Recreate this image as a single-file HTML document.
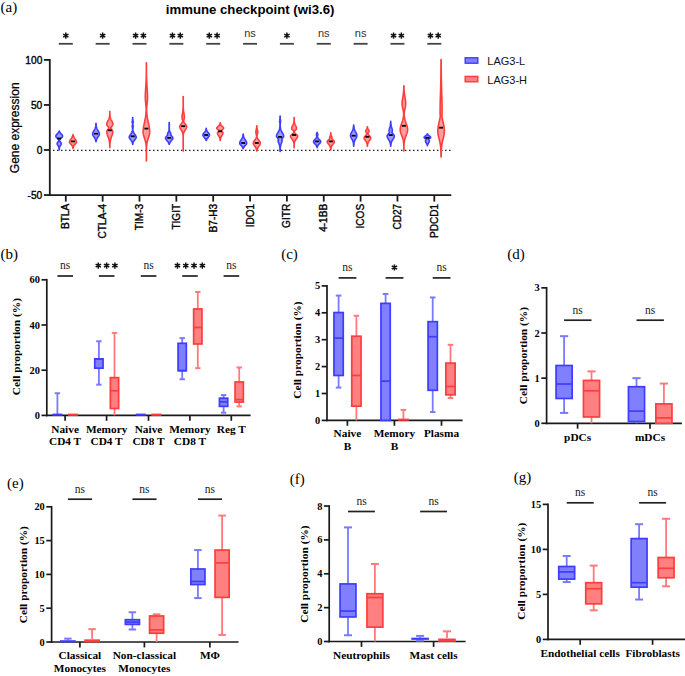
<!DOCTYPE html>
<html><head><meta charset="utf-8"><title>figure</title>
<style>
html,body{margin:0;padding:0;background:#fff;}
body{width:685px;height:676px;overflow:hidden;}
svg{display:block;}
</style></head><body>
<svg width="685" height="676" viewBox="0 0 685 676">
<rect x="0" y="0" width="685" height="676" fill="#fff"/>
<text x="0.5" y="12.2" font-family='"Liberation Serif", serif' font-size="15" font-weight="normal" text-anchor="start" fill="#000" >(a)</text>
<text x="250.1" y="14.2" font-family='"Liberation Sans", sans-serif' font-size="13.2" font-weight="bold" text-anchor="middle" fill="#000" >immune checkpoint (wi3.6)</text>
<line x1="49.8" y1="59" x2="49.8" y2="195.9" stroke="#1a1a1a" stroke-width="1.8" />
<line x1="43.9" y1="59.9" x2="49.8" y2="59.9" stroke="#1a1a1a" stroke-width="1.8" />
<text x="42.3" y="63.5" font-family='"Liberation Sans", sans-serif' font-size="10.2" font-weight="normal" text-anchor="end" fill="#000" stroke="#000" stroke-width="0.35">100</text>
<line x1="43.9" y1="104.95" x2="49.8" y2="104.95" stroke="#1a1a1a" stroke-width="1.8" />
<text x="42.3" y="108.55" font-family='"Liberation Sans", sans-serif' font-size="10.2" font-weight="normal" text-anchor="end" fill="#000" stroke="#000" stroke-width="0.35">50</text>
<line x1="43.9" y1="150" x2="49.8" y2="150" stroke="#1a1a1a" stroke-width="1.8" />
<text x="42.3" y="153.6" font-family='"Liberation Sans", sans-serif' font-size="10.2" font-weight="normal" text-anchor="end" fill="#000" stroke="#000" stroke-width="0.35">0</text>
<line x1="43.9" y1="195.05" x2="49.8" y2="195.05" stroke="#1a1a1a" stroke-width="1.8" />
<text x="42.3" y="198.65" font-family='"Liberation Sans", sans-serif' font-size="10.2" font-weight="normal" text-anchor="end" fill="#000" stroke="#000" stroke-width="0.35">-50</text>
<line x1="48.9" y1="195.05" x2="451.3" y2="195.05" stroke="#1a1a1a" stroke-width="1.8" />
<text x="18.6" y="127.8" font-family='"Liberation Sans", sans-serif' font-size="12" font-weight="normal" text-anchor="middle" fill="#000" stroke="#000" stroke-width="0.25" transform="rotate(-90 18.6 127.8)">Gene expression</text>
<line x1="65.8" y1="195" x2="65.8" y2="201.6" stroke="#1a1a1a" stroke-width="1.8" />
<text x="69.4" y="203.8" font-family='"Liberation Sans", sans-serif' font-size="10.1" font-weight="normal" text-anchor="end" fill="#000" stroke="#000" stroke-width="0.35" transform="rotate(-90 69.4 203.8)">BTLA</text>
<line x1="102.65" y1="195" x2="102.65" y2="201.6" stroke="#1a1a1a" stroke-width="1.8" />
<text x="106.25" y="203.8" font-family='"Liberation Sans", sans-serif' font-size="10.1" font-weight="normal" text-anchor="end" fill="#000" stroke="#000" stroke-width="0.35" transform="rotate(-90 106.25 203.8)">CTLA-4</text>
<line x1="139.5" y1="195" x2="139.5" y2="201.6" stroke="#1a1a1a" stroke-width="1.8" />
<text x="143.1" y="203.8" font-family='"Liberation Sans", sans-serif' font-size="10.1" font-weight="normal" text-anchor="end" fill="#000" stroke="#000" stroke-width="0.35" transform="rotate(-90 143.1 203.8)">TIM-3</text>
<line x1="176.35" y1="195" x2="176.35" y2="201.6" stroke="#1a1a1a" stroke-width="1.8" />
<text x="179.95" y="203.8" font-family='"Liberation Sans", sans-serif' font-size="10.1" font-weight="normal" text-anchor="end" fill="#000" stroke="#000" stroke-width="0.35" transform="rotate(-90 179.95 203.8)">TIGIT</text>
<line x1="213.2" y1="195" x2="213.2" y2="201.6" stroke="#1a1a1a" stroke-width="1.8" />
<text x="216.8" y="203.8" font-family='"Liberation Sans", sans-serif' font-size="10.1" font-weight="normal" text-anchor="end" fill="#000" stroke="#000" stroke-width="0.35" transform="rotate(-90 216.8 203.8)">B7-H3</text>
<line x1="250.05" y1="195" x2="250.05" y2="201.6" stroke="#1a1a1a" stroke-width="1.8" />
<text x="253.65" y="203.8" font-family='"Liberation Sans", sans-serif' font-size="10.1" font-weight="normal" text-anchor="end" fill="#000" stroke="#000" stroke-width="0.35" transform="rotate(-90 253.65 203.8)">IDO1</text>
<line x1="286.9" y1="195" x2="286.9" y2="201.6" stroke="#1a1a1a" stroke-width="1.8" />
<text x="290.5" y="203.8" font-family='"Liberation Sans", sans-serif' font-size="10.1" font-weight="normal" text-anchor="end" fill="#000" stroke="#000" stroke-width="0.35" transform="rotate(-90 290.5 203.8)">GITR</text>
<line x1="323.75" y1="195" x2="323.75" y2="201.6" stroke="#1a1a1a" stroke-width="1.8" />
<text x="327.35" y="203.8" font-family='"Liberation Sans", sans-serif' font-size="10.1" font-weight="normal" text-anchor="end" fill="#000" stroke="#000" stroke-width="0.35" transform="rotate(-90 327.35 203.8)">4-1BB</text>
<line x1="360.6" y1="195" x2="360.6" y2="201.6" stroke="#1a1a1a" stroke-width="1.8" />
<text x="364.2" y="203.8" font-family='"Liberation Sans", sans-serif' font-size="10.1" font-weight="normal" text-anchor="end" fill="#000" stroke="#000" stroke-width="0.35" transform="rotate(-90 364.2 203.8)">ICOS</text>
<line x1="397.45" y1="195" x2="397.45" y2="201.6" stroke="#1a1a1a" stroke-width="1.8" />
<text x="401.05" y="203.8" font-family='"Liberation Sans", sans-serif' font-size="10.1" font-weight="normal" text-anchor="end" fill="#000" stroke="#000" stroke-width="0.35" transform="rotate(-90 401.05 203.8)">CD27</text>
<line x1="434.3" y1="195" x2="434.3" y2="201.6" stroke="#1a1a1a" stroke-width="1.8" />
<text x="437.9" y="203.8" font-family='"Liberation Sans", sans-serif' font-size="10.1" font-weight="normal" text-anchor="end" fill="#000" stroke="#000" stroke-width="0.35" transform="rotate(-90 437.9 203.8)">PDCD1</text>
<line x1="53" y1="150.4" x2="451" y2="150.4" stroke="#222" stroke-width="1.4" stroke-dasharray="1.5 2.5"/>
<path d="M59.25 131.1 L59.47 131.8 L60.02 132.5 L60.51 133.2 L61.13 133.9 L61.78 134.6 L62.32 135.3 L62.59 136 L62.47 136.7 L61.92 137.4 L61.15 138.1 L60.42 138.8 L59.88 139.5 L59.56 140.2 L59.62 140.9 L60.04 141.6 L60.61 142.3 L61.13 143 L61.3 143.7 L61.11 144.4 L60.7 145.1 L60.22 145.8 L59.82 146.5 L59.55 147.2 L59.4 147.9 L59.34 148.6 L59.25 149.3 L59.25 150 L59.25 150 L59.15 150 L59.15 150 L59.15 149.3 L59.06 148.6 L59 147.9 L58.85 147.2 L58.58 146.5 L58.18 145.8 L57.7 145.1 L57.29 144.4 L57.1 143.7 L57.27 143 L57.79 142.3 L58.36 141.6 L58.78 140.9 L58.84 140.2 L58.52 139.5 L57.98 138.8 L57.25 138.1 L56.48 137.4 L55.93 136.7 L55.81 136 L56.08 135.3 L56.62 134.6 L57.27 133.9 L57.89 133.2 L58.38 132.5 L58.93 131.8 L59.15 131.1Z" fill="#9c9cff" stroke="#3d3dff" stroke-width="1.6" stroke-linejoin="round"/>
<line x1="57.2" y1="138.5" x2="61.2" y2="138.5" stroke="#000" stroke-width="1.8" />
<path d="M73.05 134.6 L73.12 135.3 L73.46 136 L73.69 136.7 L74.01 137.4 L74.41 138.1 L74.89 138.8 L75.4 139.5 L75.88 140.2 L76.25 140.9 L76.47 141.6 L76.47 142.3 L76.14 143 L75.57 143.7 L74.89 144.4 L74.27 145.1 L73.78 145.8 L73.46 146.5 L73.27 147.2 L73.05 147.9 L73.05 148.4 L72.95 148.4 L72.95 147.9 L72.73 147.2 L72.54 146.5 L72.22 145.8 L71.73 145.1 L71.11 144.4 L70.43 143.7 L69.86 143 L69.53 142.3 L69.53 141.6 L69.75 140.9 L70.12 140.2 L70.6 139.5 L71.11 138.8 L71.59 138.1 L71.99 137.4 L72.31 136.7 L72.54 136 L72.88 135.3 L72.95 134.6Z" fill="#ff9c9c" stroke="#ff3d3d" stroke-width="1.6" stroke-linejoin="round"/>
<line x1="71" y1="141.4" x2="75" y2="141.4" stroke="#000" stroke-width="1.8" />
<path d="M96.05 123.4 L96.05 124.1 L96.16 124.8 L96.2 125.5 L96.28 126.2 L96.39 126.9 L96.56 127.6 L96.8 128.3 L97.11 129 L97.48 129.7 L97.9 130.4 L98.34 131.1 L98.75 131.8 L99.1 132.5 L99.32 133.2 L99.4 133.9 L99.3 134.6 L99.02 135.3 L98.61 136 L98.12 136.7 L97.63 137.4 L97.2 138.1 L96.84 138.8 L96.56 139.5 L96.38 140.2 L96.2 140.9 L96.05 141.6 L96.05 141.8 L95.95 141.8 L95.95 141.6 L95.8 140.9 L95.62 140.2 L95.44 139.5 L95.16 138.8 L94.8 138.1 L94.37 137.4 L93.88 136.7 L93.39 136 L92.98 135.3 L92.7 134.6 L92.6 133.9 L92.68 133.2 L92.9 132.5 L93.25 131.8 L93.66 131.1 L94.1 130.4 L94.52 129.7 L94.89 129 L95.2 128.3 L95.44 127.6 L95.61 126.9 L95.72 126.2 L95.8 125.5 L95.84 124.8 L95.95 124.1 L95.95 123.4Z" fill="#9c9cff" stroke="#3d3dff" stroke-width="1.6" stroke-linejoin="round"/>
<line x1="94" y1="133.7" x2="98" y2="133.7" stroke="#000" stroke-width="1.8" />
<path d="M109.85 111.6 L109.85 112.3 L109.85 113 L109.85 113.7 L109.86 114.4 L109.9 115.1 L109.96 115.8 L110.06 116.5 L110.19 117.2 L110.37 117.9 L110.61 118.6 L110.9 119.3 L111.23 120 L111.59 120.7 L111.96 121.4 L112.31 122.1 L112.6 122.8 L112.8 123.5 L112.9 124.2 L112.82 124.9 L112.44 125.6 L111.88 126.3 L111.26 127 L110.72 127.7 L110.83 128.4 L111.38 129.1 L111.98 129.8 L112.48 130.5 L112.77 131.2 L112.79 131.9 L112.73 132.6 L112.61 133.3 L112.44 134 L112.23 134.7 L112 135.4 L111.75 136.1 L111.49 136.8 L111.24 137.5 L111 138.2 L110.78 138.9 L110.59 139.6 L110.42 140.3 L110.28 141 L110.16 141.7 L110.07 142.4 L109.99 143.1 L109.94 143.8 L109.9 144.5 L109.87 145.2 L109.85 145.9 L109.85 146.6 L109.85 147.3 L109.85 147.4 L109.75 147.4 L109.75 147.3 L109.75 146.6 L109.75 145.9 L109.73 145.2 L109.7 144.5 L109.66 143.8 L109.61 143.1 L109.53 142.4 L109.44 141.7 L109.32 141 L109.18 140.3 L109.01 139.6 L108.82 138.9 L108.6 138.2 L108.36 137.5 L108.11 136.8 L107.85 136.1 L107.6 135.4 L107.37 134.7 L107.16 134 L106.99 133.3 L106.87 132.6 L106.81 131.9 L106.83 131.2 L107.12 130.5 L107.62 129.8 L108.22 129.1 L108.77 128.4 L108.88 127.7 L108.34 127 L107.72 126.3 L107.16 125.6 L106.78 124.9 L106.7 124.2 L106.8 123.5 L107 122.8 L107.29 122.1 L107.64 121.4 L108.01 120.7 L108.37 120 L108.7 119.3 L108.99 118.6 L109.23 117.9 L109.41 117.2 L109.54 116.5 L109.64 115.8 L109.7 115.1 L109.74 114.4 L109.75 113.7 L109.75 113 L109.75 112.3 L109.75 111.6Z" fill="#ff9c9c" stroke="#ff3d3d" stroke-width="1.6" stroke-linejoin="round"/>
<line x1="107.8" y1="130.3" x2="111.8" y2="130.3" stroke="#000" stroke-width="1.8" />
<path d="M132.75 117.6 L132.75 118.3 L132.8 119 L132.83 119.7 L132.95 120.4 L133.19 121.1 L133.3 121.8 L133.12 122.5 L132.9 123.2 L132.82 123.9 L132.82 124.6 L132.92 125.3 L133.11 126 L133.2 126.7 L133.06 127.4 L132.88 128.1 L132.84 128.8 L132.88 129.5 L132.96 130.2 L133.08 130.9 L133.28 131.6 L133.56 132.3 L133.93 133 L134.38 133.7 L134.88 134.4 L135.38 135.1 L135.81 135.8 L136.1 136.5 L136.2 137.2 L136.07 137.9 L135.7 138.6 L135.17 139.3 L134.59 140 L134.05 140.7 L133.61 141.4 L133.28 142.1 L133.06 142.8 L132.93 143.5 L132.75 144.2 L132.75 144.5 L132.65 144.5 L132.65 144.2 L132.47 143.5 L132.34 142.8 L132.12 142.1 L131.79 141.4 L131.35 140.7 L130.81 140 L130.23 139.3 L129.7 138.6 L129.33 137.9 L129.2 137.2 L129.3 136.5 L129.59 135.8 L130.02 135.1 L130.52 134.4 L131.02 133.7 L131.47 133 L131.84 132.3 L132.12 131.6 L132.32 130.9 L132.44 130.2 L132.52 129.5 L132.56 128.8 L132.52 128.1 L132.34 127.4 L132.2 126.7 L132.29 126 L132.48 125.3 L132.58 124.6 L132.58 123.9 L132.5 123.2 L132.28 122.5 L132.1 121.8 L132.21 121.1 L132.45 120.4 L132.57 119.7 L132.6 119 L132.65 118.3 L132.65 117.6Z" fill="#9c9cff" stroke="#3d3dff" stroke-width="1.6" stroke-linejoin="round"/>
<line x1="130.7" y1="136.3" x2="134.7" y2="136.3" stroke="#000" stroke-width="1.8" />
<path d="M146.45 62.8 L146.45 63.5 L146.45 64.2 L146.45 64.9 L146.45 65.6 L146.45 66.3 L146.45 67 L146.45 67.7 L146.45 68.4 L146.45 69.1 L146.45 69.8 L146.45 70.5 L146.45 71.2 L146.45 71.9 L146.45 72.6 L146.46 73.3 L146.47 74 L146.48 74.7 L146.5 75.4 L146.51 76.1 L146.53 76.8 L146.55 77.5 L146.57 78.2 L146.6 78.9 L146.62 79.6 L146.65 80.3 L146.68 81 L146.72 81.7 L146.75 82.4 L146.79 83.1 L146.83 83.8 L146.88 84.5 L146.92 85.2 L146.97 85.9 L147.01 86.6 L147.06 87.3 L147.11 88 L147.15 88.7 L147.2 89.4 L147.24 90.1 L147.29 90.8 L147.33 91.5 L147.36 92.2 L147.4 92.9 L147.43 93.6 L147.45 94.3 L147.47 95 L147.49 95.7 L147.5 96.4 L147.5 97.1 L147.5 97.8 L147.48 98.5 L147.45 99.2 L147.41 99.9 L147.36 100.6 L147.3 101.3 L147.24 102 L147.17 102.7 L147.09 103.4 L147.02 104.1 L146.95 104.8 L146.88 105.5 L146.81 106.2 L146.75 106.9 L146.7 107.6 L146.65 108.3 L146.6 109 L146.57 109.7 L146.61 110.4 L146.65 111.1 L146.7 111.8 L146.75 112.5 L146.81 113.2 L146.87 113.9 L146.95 114.6 L147.03 115.3 L147.13 116 L147.23 116.7 L147.33 117.4 L147.45 118.1 L147.58 118.8 L147.71 119.5 L147.85 120.2 L147.99 120.9 L148.14 121.6 L148.29 122.3 L148.44 123 L148.6 123.7 L148.74 124.4 L148.89 125.1 L149.03 125.8 L149.16 126.5 L149.28 127.2 L149.39 127.9 L149.48 128.6 L149.56 129.3 L149.62 130 L149.67 130.7 L149.69 131.4 L149.7 132.1 L149.67 132.8 L149.6 133.5 L149.49 134.2 L149.34 134.9 L149.16 135.6 L148.95 136.3 L148.73 137 L148.5 137.7 L148.27 138.4 L148.04 139.1 L147.82 139.8 L147.61 140.5 L147.42 141.2 L147.25 141.9 L147.1 142.6 L146.96 143.3 L146.85 144 L146.75 144.7 L146.67 145.4 L146.61 146.1 L146.56 146.8 L146.52 147.5 L146.49 148.2 L146.46 148.9 L146.45 149.6 L146.45 150.3 L146.45 151 L146.45 151.7 L146.45 152.4 L146.45 153.1 L146.45 153.8 L146.45 154.5 L146.45 155.2 L146.45 155.9 L146.45 156.6 L146.45 157.3 L146.45 158 L146.45 158.7 L146.45 159.4 L146.45 160.1 L146.45 160.8 L146.45 160.9 L146.35 160.9 L146.35 160.8 L146.35 160.1 L146.35 159.4 L146.35 158.7 L146.35 158 L146.35 157.3 L146.35 156.6 L146.35 155.9 L146.35 155.2 L146.35 154.5 L146.35 153.8 L146.35 153.1 L146.35 152.4 L146.35 151.7 L146.35 151 L146.35 150.3 L146.35 149.6 L146.34 148.9 L146.31 148.2 L146.28 147.5 L146.24 146.8 L146.19 146.1 L146.13 145.4 L146.05 144.7 L145.95 144 L145.84 143.3 L145.7 142.6 L145.55 141.9 L145.38 141.2 L145.19 140.5 L144.98 139.8 L144.76 139.1 L144.53 138.4 L144.3 137.7 L144.07 137 L143.85 136.3 L143.64 135.6 L143.46 134.9 L143.31 134.2 L143.2 133.5 L143.13 132.8 L143.1 132.1 L143.11 131.4 L143.13 130.7 L143.18 130 L143.24 129.3 L143.32 128.6 L143.41 127.9 L143.52 127.2 L143.64 126.5 L143.77 125.8 L143.91 125.1 L144.06 124.4 L144.2 123.7 L144.36 123 L144.51 122.3 L144.66 121.6 L144.81 120.9 L144.95 120.2 L145.09 119.5 L145.22 118.8 L145.35 118.1 L145.47 117.4 L145.57 116.7 L145.67 116 L145.77 115.3 L145.85 114.6 L145.93 113.9 L145.99 113.2 L146.05 112.5 L146.1 111.8 L146.15 111.1 L146.19 110.4 L146.23 109.7 L146.2 109 L146.15 108.3 L146.1 107.6 L146.05 106.9 L145.99 106.2 L145.92 105.5 L145.85 104.8 L145.78 104.1 L145.71 103.4 L145.63 102.7 L145.56 102 L145.5 101.3 L145.44 100.6 L145.39 99.9 L145.35 99.2 L145.32 98.5 L145.3 97.8 L145.3 97.1 L145.3 96.4 L145.31 95.7 L145.33 95 L145.35 94.3 L145.37 93.6 L145.4 92.9 L145.44 92.2 L145.47 91.5 L145.51 90.8 L145.56 90.1 L145.6 89.4 L145.65 88.7 L145.69 88 L145.74 87.3 L145.79 86.6 L145.83 85.9 L145.88 85.2 L145.92 84.5 L145.97 83.8 L146.01 83.1 L146.05 82.4 L146.08 81.7 L146.12 81 L146.15 80.3 L146.18 79.6 L146.2 78.9 L146.23 78.2 L146.25 77.5 L146.27 76.8 L146.29 76.1 L146.3 75.4 L146.32 74.7 L146.33 74 L146.34 73.3 L146.35 72.6 L146.35 71.9 L146.35 71.2 L146.35 70.5 L146.35 69.8 L146.35 69.1 L146.35 68.4 L146.35 67.7 L146.35 67 L146.35 66.3 L146.35 65.6 L146.35 64.9 L146.35 64.2 L146.35 63.5 L146.35 62.8Z" fill="#ff9c9c" stroke="#ff3d3d" stroke-width="1.6" stroke-linejoin="round"/>
<line x1="144.4" y1="128.6" x2="148.4" y2="128.6" stroke="#000" stroke-width="1.8" />
<path d="M169.25 122.5 L169.25 123.2 L169.3 123.9 L169.3 124.6 L169.3 125.3 L169.3 126 L169.3 126.7 L169.3 127.4 L169.3 128.1 L169.3 128.8 L169.31 129.5 L169.35 130.2 L169.47 130.9 L169.73 131.6 L170.14 132.3 L170.61 133 L170.88 133.7 L170.8 134.4 L170.71 135.1 L171.4 135.8 L172.1 136.5 L172.65 137.2 L172.9 137.9 L172.8 138.6 L172.44 139.3 L171.9 140 L171.29 140.7 L170.7 141.4 L170.21 142.1 L169.85 142.8 L169.6 143.5 L169.25 144.2 L169.25 144.5 L169.15 144.5 L169.15 144.2 L168.8 143.5 L168.55 142.8 L168.19 142.1 L167.7 141.4 L167.11 140.7 L166.5 140 L165.96 139.3 L165.6 138.6 L165.5 137.9 L165.75 137.2 L166.3 136.5 L167 135.8 L167.69 135.1 L167.6 134.4 L167.52 133.7 L167.79 133 L168.26 132.3 L168.67 131.6 L168.93 130.9 L169.05 130.2 L169.09 129.5 L169.1 128.8 L169.1 128.1 L169.1 127.4 L169.1 126.7 L169.1 126 L169.1 125.3 L169.1 124.6 L169.1 123.9 L169.15 123.2 L169.15 122.5Z" fill="#9c9cff" stroke="#3d3dff" stroke-width="1.6" stroke-linejoin="round"/>
<line x1="167.2" y1="137.9" x2="171.2" y2="137.9" stroke="#000" stroke-width="1.8" />
<path d="M183.25 96.5 L183.25 97.2 L183.25 97.9 L183.25 98.6 L183.25 99.3 L183.25 100 L183.25 100.7 L183.25 101.4 L183.25 102.1 L183.25 102.8 L183.25 103.5 L183.25 104.2 L183.25 104.9 L183.25 105.6 L183.25 106.3 L183.25 107 L183.28 107.7 L183.31 108.4 L183.36 109.1 L183.42 109.8 L183.5 110.5 L183.58 111.2 L183.69 111.9 L183.8 112.6 L183.92 113.3 L184.04 114 L184.15 114.7 L184.25 115.4 L184.33 116.1 L184.38 116.8 L184.4 117.5 L184.35 118.2 L184.19 118.9 L183.97 119.6 L183.73 120.3 L183.53 121 L183.69 121.7 L184.03 122.4 L184.49 123.1 L185.05 123.8 L185.64 124.5 L186.18 125.2 L186.56 125.9 L186.7 126.6 L186.62 127.3 L186.38 128 L186.02 128.7 L185.58 129.4 L185.11 130.1 L184.66 130.8 L184.27 131.5 L183.94 132.2 L183.69 132.9 L183.51 133.6 L183.39 134.3 L183.31 135 L183.26 135.7 L183.25 136.4 L183.25 137.1 L183.25 137.8 L183.25 138.5 L183.25 139.2 L183.25 139.9 L183.25 140.6 L183.25 141.3 L183.25 142 L183.25 142.7 L183.25 143.4 L183.25 144.1 L183.25 144.8 L183.25 145.5 L183.25 146.2 L183.25 146.9 L183.25 147.6 L183.25 148.3 L183.25 149 L183.25 149.7 L183.25 150.4 L183.25 151 L183.15 151 L183.15 150.4 L183.15 149.7 L183.15 149 L183.15 148.3 L183.15 147.6 L183.15 146.9 L183.15 146.2 L183.15 145.5 L183.15 144.8 L183.15 144.1 L183.15 143.4 L183.15 142.7 L183.15 142 L183.15 141.3 L183.15 140.6 L183.15 139.9 L183.15 139.2 L183.15 138.5 L183.15 137.8 L183.15 137.1 L183.15 136.4 L183.14 135.7 L183.09 135 L183.01 134.3 L182.89 133.6 L182.71 132.9 L182.46 132.2 L182.13 131.5 L181.74 130.8 L181.29 130.1 L180.82 129.4 L180.38 128.7 L180.02 128 L179.78 127.3 L179.7 126.6 L179.84 125.9 L180.22 125.2 L180.76 124.5 L181.35 123.8 L181.91 123.1 L182.37 122.4 L182.71 121.7 L182.87 121 L182.67 120.3 L182.43 119.6 L182.21 118.9 L182.05 118.2 L182 117.5 L182.02 116.8 L182.07 116.1 L182.15 115.4 L182.25 114.7 L182.36 114 L182.48 113.3 L182.6 112.6 L182.71 111.9 L182.82 111.2 L182.9 110.5 L182.98 109.8 L183.04 109.1 L183.09 108.4 L183.12 107.7 L183.15 107 L183.15 106.3 L183.15 105.6 L183.15 104.9 L183.15 104.2 L183.15 103.5 L183.15 102.8 L183.15 102.1 L183.15 101.4 L183.15 100.7 L183.15 100 L183.15 99.3 L183.15 98.6 L183.15 97.9 L183.15 97.2 L183.15 96.5Z" fill="#ff9c9c" stroke="#ff3d3d" stroke-width="1.6" stroke-linejoin="round"/>
<line x1="181.2" y1="126.2" x2="185.2" y2="126.2" stroke="#000" stroke-width="1.8" />
<path d="M206.25 128.4 L206.25 129.1 L206.53 129.8 L206.74 130.5 L207.08 131.2 L207.55 131.9 L208.12 132.6 L208.71 133.3 L209.2 134 L209.47 134.7 L209.45 135.4 L209.14 136.1 L208.63 136.8 L208.04 137.5 L207.48 138.2 L207.02 138.9 L206.63 139.6 L206.25 140.3 L206.25 140.5 L206.15 140.5 L206.15 140.3 L205.77 139.6 L205.38 138.9 L204.92 138.2 L204.36 137.5 L203.77 136.8 L203.26 136.1 L202.95 135.4 L202.93 134.7 L203.2 134 L203.69 133.3 L204.28 132.6 L204.85 131.9 L205.32 131.2 L205.66 130.5 L205.87 129.8 L206.15 129.1 L206.15 128.4Z" fill="#9c9cff" stroke="#3d3dff" stroke-width="1.6" stroke-linejoin="round"/>
<line x1="204.2" y1="135" x2="208.2" y2="135" stroke="#000" stroke-width="1.8" />
<path d="M220.25 122.8 L220.25 123.5 L220.56 124.2 L220.9 124.9 L221.45 125.6 L222.21 126.3 L223 127 L223.57 127.7 L223.67 128.4 L223.08 129.1 L222.09 129.8 L221.21 130.5 L221.5 131.2 L222.3 131.9 L222.89 132.6 L222.98 133.3 L222.79 134 L222.43 134.7 L221.99 135.4 L221.53 136.1 L221.13 136.8 L220.82 137.5 L220.6 138.2 L220.46 138.9 L220.32 139.6 L220.25 140.3 L220.25 140.5 L220.15 140.5 L220.15 140.3 L220.08 139.6 L219.94 138.9 L219.8 138.2 L219.58 137.5 L219.27 136.8 L218.87 136.1 L218.41 135.4 L217.97 134.7 L217.61 134 L217.42 133.3 L217.51 132.6 L218.1 131.9 L218.9 131.2 L219.19 130.5 L218.31 129.8 L217.32 129.1 L216.73 128.4 L216.83 127.7 L217.4 127 L218.19 126.3 L218.95 125.6 L219.5 124.9 L219.84 124.2 L220.15 123.5 L220.15 122.8Z" fill="#ff9c9c" stroke="#ff3d3d" stroke-width="1.6" stroke-linejoin="round"/>
<line x1="218.2" y1="131.3" x2="222.2" y2="131.3" stroke="#000" stroke-width="1.8" />
<path d="M243.25 134 L243.25 134.7 L243.47 135.4 L243.58 136.1 L243.75 136.8 L243.98 137.5 L244.29 138.2 L244.66 138.9 L245.09 139.6 L245.54 140.3 L245.98 141 L246.34 141.7 L246.59 142.4 L246.7 143.1 L246.57 143.8 L246.12 144.5 L245.48 145.2 L244.81 145.9 L244.24 146.6 L243.83 147.3 L243.43 148 L243.25 148.7 L243.25 148.8 L243.15 148.8 L243.15 148.7 L242.97 148 L242.57 147.3 L242.16 146.6 L241.59 145.9 L240.92 145.2 L240.28 144.5 L239.83 143.8 L239.7 143.1 L239.81 142.4 L240.06 141.7 L240.42 141 L240.86 140.3 L241.31 139.6 L241.74 138.9 L242.11 138.2 L242.42 137.5 L242.65 136.8 L242.82 136.1 L242.93 135.4 L243.15 134.7 L243.15 134Z" fill="#9c9cff" stroke="#3d3dff" stroke-width="1.6" stroke-linejoin="round"/>
<line x1="241.2" y1="143" x2="245.2" y2="143" stroke="#000" stroke-width="1.8" />
<path d="M256.85 125.8 L256.85 126.5 L256.96 127.2 L257.02 127.9 L257.12 128.6 L257.26 129.3 L257.41 130 L257.56 130.7 L257.67 131.4 L257.7 132.1 L257.65 132.8 L257.52 133.5 L257.37 134.2 L257.21 134.9 L257.09 135.6 L257.07 136.3 L257.21 137 L257.41 137.7 L257.71 138.4 L258.09 139.1 L258.55 139.8 L259.06 140.5 L259.55 141.2 L259.96 141.9 L260.22 142.6 L260.3 143.3 L260.17 144 L259.85 144.7 L259.41 145.4 L258.91 146.1 L258.41 146.8 L257.97 147.5 L257.61 148.2 L257.35 148.9 L257.16 149.6 L256.85 150.3 L256.85 150.9 L256.75 150.9 L256.75 150.3 L256.44 149.6 L256.25 148.9 L255.99 148.2 L255.63 147.5 L255.19 146.8 L254.69 146.1 L254.19 145.4 L253.75 144.7 L253.43 144 L253.3 143.3 L253.38 142.6 L253.64 141.9 L254.05 141.2 L254.54 140.5 L255.05 139.8 L255.51 139.1 L255.89 138.4 L256.19 137.7 L256.39 137 L256.53 136.3 L256.51 135.6 L256.39 134.9 L256.23 134.2 L256.08 133.5 L255.95 132.8 L255.9 132.1 L255.93 131.4 L256.04 130.7 L256.19 130 L256.34 129.3 L256.48 128.6 L256.58 127.9 L256.64 127.2 L256.75 126.5 L256.75 125.8Z" fill="#ff9c9c" stroke="#ff3d3d" stroke-width="1.6" stroke-linejoin="round"/>
<line x1="254.8" y1="143" x2="258.8" y2="143" stroke="#000" stroke-width="1.8" />
<path d="M280.15 116 L280.15 116.7 L280.2 117.4 L280.2 118.1 L280.22 118.8 L280.28 119.5 L280.41 120.2 L280.56 120.9 L280.59 121.6 L280.48 122.3 L280.33 123 L280.24 123.7 L280.21 124.4 L280.23 125.1 L280.25 125.8 L280.28 126.5 L280.34 127.2 L280.42 127.9 L280.55 128.6 L280.72 129.3 L280.95 130 L281.24 130.7 L281.59 131.4 L281.99 132.1 L282.4 132.8 L282.81 133.5 L283.18 134.2 L283.47 134.9 L283.65 135.6 L283.7 136.3 L283.46 137 L282.93 137.7 L282.24 138.4 L281.68 139.1 L281.97 139.8 L282.1 140.5 L282.06 141.2 L281.91 141.9 L281.68 142.6 L281.4 143.3 L281.12 144 L280.86 144.7 L280.65 145.4 L280.49 146.1 L280.37 146.8 L280.3 147.5 L280.25 148.2 L280.23 148.9 L280.21 149.6 L280.21 150.3 L280.15 151 L280.15 151.5 L280.05 151.5 L280.05 151 L279.99 150.3 L279.99 149.6 L279.97 148.9 L279.95 148.2 L279.9 147.5 L279.83 146.8 L279.71 146.1 L279.55 145.4 L279.34 144.7 L279.08 144 L278.8 143.3 L278.52 142.6 L278.29 141.9 L278.14 141.2 L278.1 140.5 L278.23 139.8 L278.52 139.1 L277.96 138.4 L277.27 137.7 L276.74 137 L276.5 136.3 L276.55 135.6 L276.73 134.9 L277.02 134.2 L277.39 133.5 L277.8 132.8 L278.21 132.1 L278.61 131.4 L278.96 130.7 L279.25 130 L279.48 129.3 L279.65 128.6 L279.78 127.9 L279.86 127.2 L279.92 126.5 L279.95 125.8 L279.97 125.1 L279.99 124.4 L279.96 123.7 L279.87 123 L279.72 122.3 L279.61 121.6 L279.64 120.9 L279.79 120.2 L279.92 119.5 L279.98 118.8 L280 118.1 L280 117.4 L280.05 116.7 L280.05 116Z" fill="#9c9cff" stroke="#3d3dff" stroke-width="1.6" stroke-linejoin="round"/>
<line x1="278.1" y1="136.9" x2="282.1" y2="136.9" stroke="#000" stroke-width="1.8" />
<path d="M294.15 117.6 L294.15 118.3 L294.15 119 L294.15 119.7 L294.15 120.4 L294.18 121.1 L294.25 121.8 L294.36 122.5 L294.53 123.2 L294.77 123.9 L295.07 124.6 L295.42 125.3 L295.79 126 L296.14 126.7 L296.42 127.4 L296.58 128.1 L296.54 128.8 L296.05 129.5 L295.31 130.2 L294.69 130.9 L294.33 131.6 L294.42 132.3 L294.8 133 L295.42 133.7 L296.24 134.4 L297.07 135.1 L297.61 135.8 L297.68 136.5 L297.48 137.2 L297.11 137.9 L296.61 138.6 L296.07 139.3 L295.56 140 L295.12 140.7 L294.76 141.4 L294.51 142.1 L294.34 142.8 L294.23 143.5 L294.17 144.2 L294.15 144.9 L294.15 145.6 L294.15 146.3 L294.15 147 L294.15 147.7 L294.15 147.7 L294.05 147.7 L294.05 147.7 L294.05 147 L294.05 146.3 L294.05 145.6 L294.05 144.9 L294.03 144.2 L293.97 143.5 L293.86 142.8 L293.69 142.1 L293.44 141.4 L293.08 140.7 L292.64 140 L292.13 139.3 L291.59 138.6 L291.09 137.9 L290.72 137.2 L290.52 136.5 L290.59 135.8 L291.13 135.1 L291.96 134.4 L292.78 133.7 L293.4 133 L293.78 132.3 L293.87 131.6 L293.51 130.9 L292.89 130.2 L292.15 129.5 L291.66 128.8 L291.62 128.1 L291.78 127.4 L292.06 126.7 L292.41 126 L292.78 125.3 L293.13 124.6 L293.43 123.9 L293.67 123.2 L293.84 122.5 L293.95 121.8 L294.02 121.1 L294.05 120.4 L294.05 119.7 L294.05 119 L294.05 118.3 L294.05 117.6Z" fill="#ff9c9c" stroke="#ff3d3d" stroke-width="1.6" stroke-linejoin="round"/>
<line x1="292.1" y1="135" x2="296.1" y2="135" stroke="#000" stroke-width="1.8" />
<path d="M317.15 132.4 L317.24 133.1 L317.65 133.8 L317.8 134.5 L317.71 135.2 L317.48 135.9 L317.39 136.6 L317.61 137.3 L317.96 138 L318.49 138.7 L319.14 139.4 L319.83 140.1 L320.4 140.8 L320.68 141.5 L320.6 142.2 L320.18 142.9 L319.54 143.6 L318.85 144.3 L318.24 145 L317.79 145.7 L317.5 146.4 L317.15 147.1 L317.15 147.7 L317.05 147.7 L317.05 147.1 L316.7 146.4 L316.41 145.7 L315.96 145 L315.35 144.3 L314.66 143.6 L314.02 142.9 L313.6 142.2 L313.52 141.5 L313.8 140.8 L314.37 140.1 L315.06 139.4 L315.71 138.7 L316.24 138 L316.59 137.3 L316.81 136.6 L316.72 135.9 L316.49 135.2 L316.4 134.5 L316.55 133.8 L316.96 133.1 L317.05 132.4Z" fill="#9c9cff" stroke="#3d3dff" stroke-width="1.6" stroke-linejoin="round"/>
<line x1="315.1" y1="141.4" x2="319.1" y2="141.4" stroke="#000" stroke-width="1.8" />
<path d="M330.85 132.9 L330.85 133.6 L330.95 134.3 L331.05 135 L331.27 135.7 L331.57 136.4 L331.87 137.1 L332 137.8 L331.87 138.5 L332.19 139.2 L332.98 139.9 L333.78 140.6 L334.31 141.3 L334.37 142 L334.13 142.7 L333.66 143.4 L333.09 144.1 L332.5 144.8 L331.98 145.5 L331.57 146.2 L331.28 146.9 L331.1 147.6 L331 148.3 L330.89 149 L330.85 149.7 L330.85 149.9 L330.75 149.9 L330.75 149.7 L330.71 149 L330.6 148.3 L330.5 147.6 L330.32 146.9 L330.03 146.2 L329.62 145.5 L329.1 144.8 L328.51 144.1 L327.94 143.4 L327.47 142.7 L327.23 142 L327.29 141.3 L327.82 140.6 L328.62 139.9 L329.41 139.2 L329.73 138.5 L329.6 137.8 L329.73 137.1 L330.03 136.4 L330.33 135.7 L330.55 135 L330.65 134.3 L330.75 133.6 L330.75 132.9Z" fill="#ff9c9c" stroke="#ff3d3d" stroke-width="1.6" stroke-linejoin="round"/>
<line x1="328.8" y1="141.4" x2="332.8" y2="141.4" stroke="#000" stroke-width="1.8" />
<path d="M353.75 125 L353.75 125.7 L353.9 126.4 L353.97 127.1 L354.07 127.8 L354.21 128.5 L354.4 129.2 L354.65 129.9 L354.94 130.6 L355.28 131.3 L355.65 132 L356.01 132.7 L356.35 133.4 L356.63 134.1 L356.82 134.8 L356.9 135.5 L356.85 136.2 L356.65 136.9 L356.34 137.6 L355.96 138.3 L355.55 139 L355.15 139.7 L354.79 140.4 L354.5 141.1 L354.26 141.8 L354.1 142.5 L353.98 143.2 L353.9 143.9 L353.86 144.6 L353.78 145.3 L353.75 146 L353.75 146.2 L353.65 146.2 L353.65 146 L353.62 145.3 L353.54 144.6 L353.5 143.9 L353.42 143.2 L353.3 142.5 L353.14 141.8 L352.9 141.1 L352.61 140.4 L352.25 139.7 L351.85 139 L351.44 138.3 L351.06 137.6 L350.75 136.9 L350.55 136.2 L350.5 135.5 L350.58 134.8 L350.77 134.1 L351.05 133.4 L351.39 132.7 L351.75 132 L352.12 131.3 L352.46 130.6 L352.75 129.9 L353 129.2 L353.19 128.5 L353.33 127.8 L353.43 127.1 L353.5 126.4 L353.65 125.7 L353.65 125Z" fill="#9c9cff" stroke="#3d3dff" stroke-width="1.6" stroke-linejoin="round"/>
<line x1="351.7" y1="135.7" x2="355.7" y2="135.7" stroke="#000" stroke-width="1.8" />
<path d="M367.45 126.7 L367.45 127.4 L367.72 128.1 L367.99 128.8 L368.38 129.5 L368.8 130.2 L369.07 130.9 L369.02 131.6 L368.6 132.3 L368.09 133 L367.91 133.7 L368.26 134.4 L368.76 135.1 L369.37 135.8 L369.99 136.5 L370.48 137.2 L370.7 137.9 L370.61 138.6 L370.29 139.3 L369.81 140 L369.26 140.7 L368.75 141.4 L368.31 142.1 L367.99 142.8 L367.77 143.5 L367.64 144.2 L367.57 144.9 L367.45 145.6 L367.45 146.2 L367.35 146.2 L367.35 145.6 L367.23 144.9 L367.16 144.2 L367.03 143.5 L366.81 142.8 L366.49 142.1 L366.05 141.4 L365.54 140.7 L364.99 140 L364.51 139.3 L364.19 138.6 L364.1 137.9 L364.32 137.2 L364.81 136.5 L365.43 135.8 L366.04 135.1 L366.54 134.4 L366.89 133.7 L366.71 133 L366.2 132.3 L365.78 131.6 L365.73 130.9 L366 130.2 L366.42 129.5 L366.81 128.8 L367.08 128.1 L367.35 127.4 L367.35 126.7Z" fill="#ff9c9c" stroke="#ff3d3d" stroke-width="1.6" stroke-linejoin="round"/>
<line x1="365.4" y1="136.8" x2="369.4" y2="136.8" stroke="#000" stroke-width="1.8" />
<path d="M390.75 121.4 L390.75 122.1 L390.84 122.8 L390.87 123.5 L390.93 124.2 L391.01 124.9 L391.13 125.6 L391.3 126.3 L391.5 127 L391.72 127.7 L391.94 128.4 L392.13 129.1 L392.25 129.8 L392.3 130.5 L392.22 131.2 L392.01 131.9 L392.02 132.6 L392.56 133.3 L393.16 134 L393.71 134.7 L394.12 135.4 L394.3 136.1 L394.24 136.8 L394.02 137.5 L393.67 138.2 L393.24 138.9 L392.78 139.6 L392.33 140.3 L391.92 141 L391.59 141.7 L391.32 142.4 L391.13 143.1 L391 143.8 L390.92 144.5 L390.86 145.2 L390.75 145.9 L390.75 146.2 L390.65 146.2 L390.65 145.9 L390.54 145.2 L390.48 144.5 L390.4 143.8 L390.27 143.1 L390.08 142.4 L389.81 141.7 L389.48 141 L389.07 140.3 L388.62 139.6 L388.16 138.9 L387.73 138.2 L387.38 137.5 L387.16 136.8 L387.1 136.1 L387.28 135.4 L387.69 134.7 L388.24 134 L388.84 133.3 L389.38 132.6 L389.39 131.9 L389.18 131.2 L389.1 130.5 L389.15 129.8 L389.27 129.1 L389.46 128.4 L389.68 127.7 L389.9 127 L390.1 126.3 L390.27 125.6 L390.39 124.9 L390.47 124.2 L390.53 123.5 L390.56 122.8 L390.65 122.1 L390.65 121.4Z" fill="#9c9cff" stroke="#3d3dff" stroke-width="1.6" stroke-linejoin="round"/>
<line x1="388.7" y1="135.1" x2="392.7" y2="135.1" stroke="#000" stroke-width="1.8" />
<path d="M403.95 85.9 L403.95 86.6 L403.97 87.3 L403.99 88 L404.01 88.7 L404.04 89.4 L404.08 90.1 L404.13 90.8 L404.19 91.5 L404.25 92.2 L404.33 92.9 L404.41 93.6 L404.5 94.3 L404.61 95 L404.72 95.7 L404.83 96.4 L404.95 97.1 L405.07 97.8 L405.19 98.5 L405.3 99.2 L405.41 99.9 L405.5 100.6 L405.58 101.3 L405.64 102 L405.68 102.7 L405.7 103.4 L405.69 104.1 L405.66 104.8 L405.58 105.5 L405.48 106.2 L405.36 106.9 L405.22 107.6 L405.07 108.3 L404.91 109 L404.76 109.7 L404.62 110.4 L404.49 111.1 L404.37 111.8 L404.27 112.5 L404.19 113.2 L404.12 113.9 L404.12 114.6 L404.19 115.3 L404.26 116 L404.36 116.7 L404.47 117.4 L404.6 118.1 L404.75 118.8 L404.92 119.5 L405.11 120.2 L405.32 120.9 L405.55 121.6 L405.78 122.3 L406.03 123 L406.27 123.7 L406.52 124.4 L406.75 125.1 L406.97 125.8 L407.16 126.5 L407.33 127.2 L407.45 127.9 L407.55 128.6 L407.59 129.3 L407.59 130 L407.54 130.7 L407.44 131.4 L407.28 132.1 L407.08 132.8 L406.85 133.5 L406.6 134.2 L406.33 134.9 L406.05 135.6 L405.77 136.3 L405.51 137 L405.26 137.7 L405.03 138.4 L404.83 139.1 L404.65 139.8 L404.5 140.5 L404.37 141.2 L404.26 141.9 L404.17 142.6 L404.11 143.3 L404.05 144 L404.01 144.7 L403.98 145.4 L403.96 146.1 L403.95 146.8 L403.95 147.5 L403.95 148.2 L403.95 148.9 L403.95 149.6 L403.95 150.3 L403.95 151 L403.95 151 L403.85 151 L403.85 151 L403.85 150.3 L403.85 149.6 L403.85 148.9 L403.85 148.2 L403.85 147.5 L403.85 146.8 L403.84 146.1 L403.82 145.4 L403.79 144.7 L403.75 144 L403.69 143.3 L403.63 142.6 L403.54 141.9 L403.43 141.2 L403.3 140.5 L403.15 139.8 L402.97 139.1 L402.77 138.4 L402.54 137.7 L402.29 137 L402.03 136.3 L401.75 135.6 L401.47 134.9 L401.2 134.2 L400.95 133.5 L400.72 132.8 L400.52 132.1 L400.36 131.4 L400.26 130.7 L400.21 130 L400.21 129.3 L400.25 128.6 L400.35 127.9 L400.47 127.2 L400.64 126.5 L400.83 125.8 L401.05 125.1 L401.28 124.4 L401.53 123.7 L401.77 123 L402.02 122.3 L402.25 121.6 L402.48 120.9 L402.69 120.2 L402.88 119.5 L403.05 118.8 L403.2 118.1 L403.33 117.4 L403.44 116.7 L403.54 116 L403.61 115.3 L403.68 114.6 L403.68 113.9 L403.61 113.2 L403.53 112.5 L403.43 111.8 L403.31 111.1 L403.18 110.4 L403.04 109.7 L402.89 109 L402.73 108.3 L402.58 107.6 L402.44 106.9 L402.32 106.2 L402.22 105.5 L402.14 104.8 L402.11 104.1 L402.1 103.4 L402.12 102.7 L402.16 102 L402.22 101.3 L402.3 100.6 L402.39 99.9 L402.5 99.2 L402.61 98.5 L402.73 97.8 L402.85 97.1 L402.97 96.4 L403.08 95.7 L403.19 95 L403.3 94.3 L403.39 93.6 L403.47 92.9 L403.55 92.2 L403.61 91.5 L403.67 90.8 L403.72 90.1 L403.76 89.4 L403.79 88.7 L403.81 88 L403.83 87.3 L403.85 86.6 L403.85 85.9Z" fill="#ff9c9c" stroke="#ff3d3d" stroke-width="1.6" stroke-linejoin="round"/>
<line x1="401.9" y1="125.8" x2="405.9" y2="125.8" stroke="#000" stroke-width="1.8" />
<path d="M427.45 133.8 L427.68 134.5 L428.45 135.2 L429.32 135.9 L430.23 136.6 L430.69 137.3 L430.36 138 L429.4 138.7 L428.43 139.4 L428.98 140.1 L429.38 140.8 L429.33 141.5 L429.01 142.2 L428.57 142.9 L428.14 143.6 L427.83 144.3 L427.47 145 L427.45 145.7 L427.45 145.7 L427.35 145.7 L427.35 145.7 L427.33 145 L426.97 144.3 L426.66 143.6 L426.23 142.9 L425.79 142.2 L425.47 141.5 L425.42 140.8 L425.82 140.1 L426.37 139.4 L425.4 138.7 L424.44 138 L424.11 137.3 L424.57 136.6 L425.48 135.9 L426.35 135.2 L427.12 134.5 L427.35 133.8Z" fill="#9c9cff" stroke="#3d3dff" stroke-width="1.6" stroke-linejoin="round"/>
<line x1="425.4" y1="137.8" x2="429.4" y2="137.8" stroke="#000" stroke-width="1.8" />
<path d="M441.15 59.5 L441.15 60.2 L441.21 60.9 L441.22 61.6 L441.22 62.3 L441.22 63 L441.22 63.7 L441.22 64.4 L441.23 65.1 L441.23 65.8 L441.23 66.5 L441.24 67.2 L441.24 67.9 L441.24 68.6 L441.25 69.3 L441.25 70 L441.26 70.7 L441.26 71.4 L441.27 72.1 L441.28 72.8 L441.28 73.5 L441.29 74.2 L441.3 74.9 L441.31 75.6 L441.32 76.3 L441.33 77 L441.34 77.7 L441.35 78.4 L441.36 79.1 L441.37 79.8 L441.38 80.5 L441.4 81.2 L441.41 81.9 L441.43 82.6 L441.44 83.3 L441.46 84 L441.47 84.7 L441.49 85.4 L441.51 86.1 L441.53 86.8 L441.54 87.5 L441.56 88.2 L441.58 88.9 L441.6 89.6 L441.62 90.3 L441.64 91 L441.67 91.7 L441.69 92.4 L441.71 93.1 L441.73 93.8 L441.75 94.5 L441.77 95.2 L441.79 95.9 L441.82 96.6 L441.84 97.3 L441.86 98 L441.88 98.7 L441.9 99.4 L441.92 100.1 L441.94 100.8 L441.95 101.5 L441.97 102.2 L441.99 102.9 L442 103.6 L442.02 104.3 L442.03 105 L442.04 105.7 L442.06 106.4 L442.07 107.1 L442.07 107.8 L442.08 108.5 L442.09 109.2 L442.09 109.9 L442.1 110.6 L442.1 111.3 L442.1 112 L442.1 112.7 L442.08 113.4 L442.06 114.1 L442.03 114.8 L442 115.5 L441.95 116.2 L442.02 116.9 L442.14 117.6 L442.26 118.3 L442.4 119 L442.54 119.7 L442.69 120.4 L442.84 121.1 L443 121.8 L443.16 122.5 L443.32 123.2 L443.48 123.9 L443.63 124.6 L443.77 125.3 L443.91 126 L444.03 126.7 L444.14 127.4 L444.23 128.1 L444.3 128.8 L444.36 129.5 L444.39 130.2 L444.4 130.9 L444.39 131.6 L444.35 132.3 L444.29 133 L444.2 133.7 L444.09 134.4 L443.97 135.1 L443.82 135.8 L443.67 136.5 L443.51 137.2 L443.33 137.9 L443.16 138.6 L442.99 139.3 L442.81 140 L442.65 140.7 L442.49 141.4 L442.33 142.1 L442.19 142.8 L442.06 143.5 L441.94 144.2 L441.83 144.9 L441.74 145.6 L441.65 146.3 L441.58 147 L441.51 147.7 L441.45 148.4 L441.41 149.1 L441.37 149.8 L441.33 150.5 L441.31 151.2 L441.28 151.9 L441.27 152.6 L441.25 153.3 L441.24 154 L441.23 154.7 L441.22 155.4 L441.15 156.1 L441.15 156.8 L441.15 156.9 L441.05 156.9 L441.05 156.8 L441.05 156.1 L440.98 155.4 L440.97 154.7 L440.96 154 L440.95 153.3 L440.93 152.6 L440.92 151.9 L440.89 151.2 L440.87 150.5 L440.83 149.8 L440.79 149.1 L440.75 148.4 L440.69 147.7 L440.62 147 L440.55 146.3 L440.46 145.6 L440.37 144.9 L440.26 144.2 L440.14 143.5 L440.01 142.8 L439.87 142.1 L439.71 141.4 L439.55 140.7 L439.39 140 L439.21 139.3 L439.04 138.6 L438.87 137.9 L438.69 137.2 L438.53 136.5 L438.38 135.8 L438.23 135.1 L438.11 134.4 L438 133.7 L437.91 133 L437.85 132.3 L437.81 131.6 L437.8 130.9 L437.81 130.2 L437.84 129.5 L437.9 128.8 L437.97 128.1 L438.06 127.4 L438.17 126.7 L438.29 126 L438.43 125.3 L438.57 124.6 L438.72 123.9 L438.88 123.2 L439.04 122.5 L439.2 121.8 L439.36 121.1 L439.51 120.4 L439.66 119.7 L439.8 119 L439.94 118.3 L440.06 117.6 L440.18 116.9 L440.25 116.2 L440.2 115.5 L440.17 114.8 L440.14 114.1 L440.12 113.4 L440.1 112.7 L440.1 112 L440.1 111.3 L440.1 110.6 L440.11 109.9 L440.11 109.2 L440.12 108.5 L440.13 107.8 L440.13 107.1 L440.14 106.4 L440.16 105.7 L440.17 105 L440.18 104.3 L440.2 103.6 L440.21 102.9 L440.23 102.2 L440.25 101.5 L440.26 100.8 L440.28 100.1 L440.3 99.4 L440.32 98.7 L440.34 98 L440.36 97.3 L440.38 96.6 L440.41 95.9 L440.43 95.2 L440.45 94.5 L440.47 93.8 L440.49 93.1 L440.51 92.4 L440.53 91.7 L440.56 91 L440.58 90.3 L440.6 89.6 L440.62 88.9 L440.64 88.2 L440.66 87.5 L440.67 86.8 L440.69 86.1 L440.71 85.4 L440.73 84.7 L440.74 84 L440.76 83.3 L440.77 82.6 L440.79 81.9 L440.8 81.2 L440.82 80.5 L440.83 79.8 L440.84 79.1 L440.85 78.4 L440.86 77.7 L440.87 77 L440.88 76.3 L440.89 75.6 L440.9 74.9 L440.91 74.2 L440.92 73.5 L440.92 72.8 L440.93 72.1 L440.94 71.4 L440.94 70.7 L440.95 70 L440.95 69.3 L440.96 68.6 L440.96 67.9 L440.96 67.2 L440.97 66.5 L440.97 65.8 L440.97 65.1 L440.98 64.4 L440.98 63.7 L440.98 63 L440.98 62.3 L440.98 61.6 L440.99 60.9 L441.05 60.2 L441.05 59.5Z" fill="#ff9c9c" stroke="#ff3d3d" stroke-width="1.6" stroke-linejoin="round"/>
<line x1="439.1" y1="127.7" x2="443.1" y2="127.7" stroke="#000" stroke-width="1.8" />
<line x1="58.8" y1="43.8" x2="72.8" y2="43.8" stroke="#444" stroke-width="1.8" />
<path d="M65.8 32.5L65.8 38.7M63.12 34.05L68.48 37.15M63.12 37.15L68.48 34.05" stroke="#111" stroke-width="1.5" stroke-linecap="butt"/>
<line x1="95.65" y1="43.8" x2="109.65" y2="43.8" stroke="#444" stroke-width="1.8" />
<path d="M102.65 32.5L102.65 38.7M99.97 34.05L105.33 37.15M99.97 37.15L105.33 34.05" stroke="#111" stroke-width="1.5" stroke-linecap="butt"/>
<line x1="132.5" y1="43.8" x2="146.5" y2="43.8" stroke="#444" stroke-width="1.8" />
<path d="M135.6 32.5L135.6 38.7M132.92 34.05L138.28 37.15M132.92 37.15L138.28 34.05" stroke="#111" stroke-width="1.5" stroke-linecap="butt"/>
<path d="M143.4 32.5L143.4 38.7M140.72 34.05L146.08 37.15M140.72 37.15L146.08 34.05" stroke="#111" stroke-width="1.5" stroke-linecap="butt"/>
<line x1="169.35" y1="43.8" x2="183.35" y2="43.8" stroke="#444" stroke-width="1.8" />
<path d="M172.45 32.5L172.45 38.7M169.77 34.05L175.13 37.15M169.77 37.15L175.13 34.05" stroke="#111" stroke-width="1.5" stroke-linecap="butt"/>
<path d="M180.25 32.5L180.25 38.7M177.57 34.05L182.93 37.15M177.57 37.15L182.93 34.05" stroke="#111" stroke-width="1.5" stroke-linecap="butt"/>
<line x1="206.2" y1="43.8" x2="220.2" y2="43.8" stroke="#444" stroke-width="1.8" />
<path d="M209.3 32.5L209.3 38.7M206.62 34.05L211.98 37.15M206.62 37.15L211.98 34.05" stroke="#111" stroke-width="1.5" stroke-linecap="butt"/>
<path d="M217.1 32.5L217.1 38.7M214.42 34.05L219.78 37.15M214.42 37.15L219.78 34.05" stroke="#111" stroke-width="1.5" stroke-linecap="butt"/>
<line x1="243.05" y1="43.8" x2="257.05" y2="43.8" stroke="#444" stroke-width="1.8" />
<text x="250.05" y="37.4" font-family='"Liberation Sans", sans-serif' font-size="11" font-weight="normal" text-anchor="middle" fill="#333" >ns</text>
<line x1="279.9" y1="43.8" x2="293.9" y2="43.8" stroke="#444" stroke-width="1.8" />
<path d="M286.9 32.5L286.9 38.7M284.22 34.05L289.58 37.15M284.22 37.15L289.58 34.05" stroke="#111" stroke-width="1.5" stroke-linecap="butt"/>
<line x1="316.75" y1="43.8" x2="330.75" y2="43.8" stroke="#444" stroke-width="1.8" />
<text x="323.75" y="37.4" font-family='"Liberation Sans", sans-serif' font-size="11" font-weight="normal" text-anchor="middle" fill="#333" >ns</text>
<line x1="353.6" y1="43.8" x2="367.6" y2="43.8" stroke="#444" stroke-width="1.8" />
<text x="360.6" y="37.4" font-family='"Liberation Sans", sans-serif' font-size="11" font-weight="normal" text-anchor="middle" fill="#333" >ns</text>
<line x1="390.45" y1="43.8" x2="404.45" y2="43.8" stroke="#444" stroke-width="1.8" />
<path d="M393.55 32.5L393.55 38.7M390.87 34.05L396.23 37.15M390.87 37.15L396.23 34.05" stroke="#111" stroke-width="1.5" stroke-linecap="butt"/>
<path d="M401.35 32.5L401.35 38.7M398.67 34.05L404.03 37.15M398.67 37.15L404.03 34.05" stroke="#111" stroke-width="1.5" stroke-linecap="butt"/>
<line x1="427.3" y1="43.8" x2="441.3" y2="43.8" stroke="#444" stroke-width="1.8" />
<path d="M430.4 32.5L430.4 38.7M427.72 34.05L433.08 37.15M427.72 37.15L433.08 34.05" stroke="#111" stroke-width="1.5" stroke-linecap="butt"/>
<path d="M438.2 32.5L438.2 38.7M435.52 34.05L440.88 37.15M435.52 37.15L440.88 34.05" stroke="#111" stroke-width="1.5" stroke-linecap="butt"/>
<rect x="465.2" y="57.8" width="12.6" height="5.4" fill="#8080ff" stroke="#3d3dff" stroke-width="1.4"/>
<rect x="465.2" y="76.4" width="12.6" height="5.4" fill="#ff8080" stroke="#ff3d3d" stroke-width="1.4"/>
<text x="487.3" y="65.2" font-family='"Liberation Sans", sans-serif' font-size="11" font-weight="normal" text-anchor="start" fill="#111" >LAG3-L</text>
<text x="487.3" y="83.6" font-family='"Liberation Sans", sans-serif' font-size="11" font-weight="normal" text-anchor="start" fill="#111" >LAG3-H</text>
<text x="0.5" y="258.6" font-family='"Liberation Serif", serif' font-size="15" font-weight="normal" text-anchor="start" fill="#000" >(b)</text>
<line x1="46.8" y1="278.9" x2="46.8" y2="416.3" stroke="#1a1a1a" stroke-width="1.7" />
<line x1="41.5" y1="415.4" x2="46.8" y2="415.4" stroke="#1a1a1a" stroke-width="1.7" />
<text x="40" y="418.9" font-family='"Liberation Serif", serif' font-size="10.4" font-weight="bold" text-anchor="end" fill="#000" >0</text>
<line x1="41.5" y1="370.2" x2="46.8" y2="370.2" stroke="#1a1a1a" stroke-width="1.7" />
<text x="40" y="373.7" font-family='"Liberation Serif", serif' font-size="10.4" font-weight="bold" text-anchor="end" fill="#000" >20</text>
<line x1="41.5" y1="325" x2="46.8" y2="325" stroke="#1a1a1a" stroke-width="1.7" />
<text x="40" y="328.5" font-family='"Liberation Serif", serif' font-size="10.4" font-weight="bold" text-anchor="end" fill="#000" >40</text>
<line x1="41.5" y1="279.8" x2="46.8" y2="279.8" stroke="#1a1a1a" stroke-width="1.7" />
<text x="40" y="283.3" font-family='"Liberation Serif", serif' font-size="10.4" font-weight="bold" text-anchor="end" fill="#000" >60</text>
<line x1="46" y1="415.4" x2="250.6" y2="415.4" stroke="#1a1a1a" stroke-width="1.7" />
<text x="19.6" y="346.7" font-family='"Liberation Serif", serif' font-size="11.4" font-weight="bold" text-anchor="middle" fill="#000" transform="rotate(-90 19.6 346.7)">Cell proportion (%)</text>
<line x1="65.1" y1="415.4" x2="65.1" y2="420.8" stroke="#1a1a1a" stroke-width="1.7" />
<text x="65.1" y="432.7" font-family='"Liberation Serif", serif' font-size="11.3" font-weight="bold" text-anchor="middle" fill="#000" >Naive</text>
<text x="65.1" y="445.2" font-family='"Liberation Serif", serif' font-size="11.3" font-weight="bold" text-anchor="middle" fill="#000" >CD4 T</text>
<line x1="57.4" y1="393.25" x2="57.4" y2="414.72" stroke="#7a7aff" stroke-width="1.8" />
<line x1="54.7" y1="393.25" x2="60.1" y2="393.25" stroke="#7a7aff" stroke-width="2" />
<rect x="52.4" y="413.6" width="10" height="2.2" fill="#3d3dff" stroke="#3d3dff" stroke-width="0"/>
<rect x="68" y="413.6" width="10" height="2.2" fill="#ff3d3d" stroke="#ff3d3d" stroke-width="0"/>
<line x1="106.6" y1="415.4" x2="106.6" y2="420.8" stroke="#1a1a1a" stroke-width="1.7" />
<text x="106.6" y="432.7" font-family='"Liberation Serif", serif' font-size="11.3" font-weight="bold" text-anchor="middle" fill="#000" >Memory</text>
<text x="106.6" y="445.2" font-family='"Liberation Serif", serif' font-size="11.3" font-weight="bold" text-anchor="middle" fill="#000" >CD4 T</text>
<line x1="98.9" y1="341.27" x2="98.9" y2="358.9" stroke="#7a7aff" stroke-width="1.8" />
<line x1="96.2" y1="341.27" x2="101.6" y2="341.27" stroke="#7a7aff" stroke-width="2" />
<line x1="98.9" y1="368.17" x2="98.9" y2="384.66" stroke="#7a7aff" stroke-width="1.8" />
<line x1="96.2" y1="384.66" x2="101.6" y2="384.66" stroke="#7a7aff" stroke-width="2" />
<rect x="94.75" y="358.9" width="8.3" height="9.27" fill="#8080ff" stroke="#3d3dff" stroke-width="1.7"/>
<line x1="94.75" y1="358.9" x2="103.05" y2="358.9" stroke="#3d3dff" stroke-width="1.7" />
<line x1="114.5" y1="332.91" x2="114.5" y2="377.66" stroke="#ff7a7a" stroke-width="1.8" />
<line x1="111.8" y1="332.91" x2="117.2" y2="332.91" stroke="#ff7a7a" stroke-width="2" />
<line x1="114.5" y1="408.51" x2="114.5" y2="415.4" stroke="#ff7a7a" stroke-width="1.8" />
<rect x="110.35" y="377.66" width="8.3" height="30.85" fill="#ff8080" stroke="#ff3d3d" stroke-width="1.7"/>
<line x1="110.35" y1="390.77" x2="118.65" y2="390.77" stroke="#ff3d3d" stroke-width="1.7" />
<line x1="148.5" y1="415.4" x2="148.5" y2="420.8" stroke="#1a1a1a" stroke-width="1.7" />
<text x="148.5" y="432.7" font-family='"Liberation Serif", serif' font-size="11.3" font-weight="bold" text-anchor="middle" fill="#000" >Naive</text>
<text x="148.5" y="445.2" font-family='"Liberation Serif", serif' font-size="11.3" font-weight="bold" text-anchor="middle" fill="#000" >CD8 T</text>
<rect x="135.8" y="413.6" width="10" height="2.2" fill="#3d3dff" stroke="#3d3dff" stroke-width="0"/>
<rect x="151.4" y="413.6" width="10" height="2.2" fill="#ff3d3d" stroke="#ff3d3d" stroke-width="0"/>
<line x1="189.9" y1="415.4" x2="189.9" y2="420.8" stroke="#1a1a1a" stroke-width="1.7" />
<text x="189.9" y="432.7" font-family='"Liberation Serif", serif' font-size="11.3" font-weight="bold" text-anchor="middle" fill="#000" >Memory</text>
<text x="189.9" y="445.2" font-family='"Liberation Serif", serif' font-size="11.3" font-weight="bold" text-anchor="middle" fill="#000" >CD8 T</text>
<line x1="182.2" y1="338.11" x2="182.2" y2="343.31" stroke="#7a7aff" stroke-width="1.8" />
<line x1="179.5" y1="338.11" x2="184.9" y2="338.11" stroke="#7a7aff" stroke-width="2" />
<line x1="182.2" y1="370.65" x2="182.2" y2="379.24" stroke="#7a7aff" stroke-width="1.8" />
<line x1="179.5" y1="379.24" x2="184.9" y2="379.24" stroke="#7a7aff" stroke-width="2" />
<rect x="178.05" y="343.31" width="8.3" height="27.35" fill="#8080ff" stroke="#3d3dff" stroke-width="1.7"/>
<line x1="178.05" y1="370.65" x2="186.35" y2="370.65" stroke="#3d3dff" stroke-width="1.7" />
<line x1="197.8" y1="292" x2="197.8" y2="308.95" stroke="#ff7a7a" stroke-width="1.8" />
<line x1="195.1" y1="292" x2="200.5" y2="292" stroke="#ff7a7a" stroke-width="2" />
<line x1="197.8" y1="343.98" x2="197.8" y2="368.17" stroke="#ff7a7a" stroke-width="1.8" />
<line x1="195.1" y1="368.17" x2="200.5" y2="368.17" stroke="#ff7a7a" stroke-width="2" />
<rect x="193.65" y="308.95" width="8.3" height="35.03" fill="#ff8080" stroke="#ff3d3d" stroke-width="1.7"/>
<line x1="193.65" y1="327.49" x2="201.95" y2="327.49" stroke="#ff3d3d" stroke-width="1.7" />
<line x1="231.3" y1="415.4" x2="231.3" y2="420.8" stroke="#1a1a1a" stroke-width="1.7" />
<text x="231.3" y="432.7" font-family='"Liberation Serif", serif' font-size="11.3" font-weight="bold" text-anchor="middle" fill="#000" >Reg T</text>
<line x1="223.6" y1="395.06" x2="223.6" y2="398.22" stroke="#7a7aff" stroke-width="1.8" />
<line x1="220.9" y1="395.06" x2="226.3" y2="395.06" stroke="#7a7aff" stroke-width="2" />
<line x1="223.6" y1="406.36" x2="223.6" y2="412.69" stroke="#7a7aff" stroke-width="1.8" />
<line x1="220.9" y1="412.69" x2="226.3" y2="412.69" stroke="#7a7aff" stroke-width="2" />
<rect x="219.45" y="398.22" width="8.3" height="8.14" fill="#8080ff" stroke="#3d3dff" stroke-width="1.7"/>
<line x1="219.45" y1="401.84" x2="227.75" y2="401.84" stroke="#3d3dff" stroke-width="1.7" />
<line x1="239.2" y1="367.49" x2="239.2" y2="381.95" stroke="#ff7a7a" stroke-width="1.8" />
<line x1="236.5" y1="367.49" x2="241.9" y2="367.49" stroke="#ff7a7a" stroke-width="2" />
<line x1="239.2" y1="402.07" x2="239.2" y2="406.36" stroke="#ff7a7a" stroke-width="1.8" />
<line x1="236.5" y1="406.36" x2="241.9" y2="406.36" stroke="#ff7a7a" stroke-width="2" />
<rect x="235.05" y="381.95" width="8.3" height="20.11" fill="#ff8080" stroke="#ff3d3d" stroke-width="1.7"/>
<line x1="235.05" y1="399.58" x2="243.35" y2="399.58" stroke="#ff3d3d" stroke-width="1.7" />
<line x1="57.4" y1="276" x2="73" y2="276" stroke="#222" stroke-width="1.7" />
<text x="65.1" y="269.4" font-family='"Liberation Serif", serif' font-size="11.5" font-weight="normal" text-anchor="middle" fill="#222" >ns</text>
<line x1="98.9" y1="276" x2="114.5" y2="276" stroke="#222" stroke-width="1.7" />
<path d="M98.3 262.5L98.3 268.7M95.62 264.05L100.98 267.15M95.62 267.15L100.98 264.05" stroke="#111" stroke-width="1.5" stroke-linecap="butt"/>
<path d="M106.6 262.5L106.6 268.7M103.92 264.05L109.28 267.15M103.92 267.15L109.28 264.05" stroke="#111" stroke-width="1.5" stroke-linecap="butt"/>
<path d="M114.9 262.5L114.9 268.7M112.22 264.05L117.58 267.15M112.22 267.15L117.58 264.05" stroke="#111" stroke-width="1.5" stroke-linecap="butt"/>
<line x1="140.8" y1="276" x2="156.4" y2="276" stroke="#222" stroke-width="1.7" />
<text x="148.5" y="269.4" font-family='"Liberation Serif", serif' font-size="11.5" font-weight="normal" text-anchor="middle" fill="#222" >ns</text>
<line x1="182.2" y1="276" x2="197.8" y2="276" stroke="#222" stroke-width="1.7" />
<path d="M177.45 262.5L177.45 268.7M174.77 264.05L180.13 267.15M174.77 267.15L180.13 264.05" stroke="#111" stroke-width="1.5" stroke-linecap="butt"/>
<path d="M185.75 262.5L185.75 268.7M183.07 264.05L188.43 267.15M183.07 267.15L188.43 264.05" stroke="#111" stroke-width="1.5" stroke-linecap="butt"/>
<path d="M194.05 262.5L194.05 268.7M191.37 264.05L196.73 267.15M191.37 267.15L196.73 264.05" stroke="#111" stroke-width="1.5" stroke-linecap="butt"/>
<path d="M202.35 262.5L202.35 268.7M199.67 264.05L205.03 267.15M199.67 267.15L205.03 264.05" stroke="#111" stroke-width="1.5" stroke-linecap="butt"/>
<line x1="223.6" y1="276" x2="239.2" y2="276" stroke="#222" stroke-width="1.7" />
<text x="231.3" y="269.4" font-family='"Liberation Serif", serif' font-size="11.5" font-weight="normal" text-anchor="middle" fill="#222" >ns</text>
<text x="281.2" y="258.6" font-family='"Liberation Serif", serif' font-size="15" font-weight="normal" text-anchor="start" fill="#000" >(c)</text>
<line x1="327" y1="285" x2="327" y2="421.3" stroke="#1a1a1a" stroke-width="1.7" />
<line x1="321.7" y1="420.4" x2="327" y2="420.4" stroke="#1a1a1a" stroke-width="1.7" />
<text x="320.2" y="423.9" font-family='"Liberation Serif", serif' font-size="10.4" font-weight="bold" text-anchor="end" fill="#000" >0</text>
<line x1="321.7" y1="393.5" x2="327" y2="393.5" stroke="#1a1a1a" stroke-width="1.7" />
<text x="320.2" y="397" font-family='"Liberation Serif", serif' font-size="10.4" font-weight="bold" text-anchor="end" fill="#000" >1</text>
<line x1="321.7" y1="366.6" x2="327" y2="366.6" stroke="#1a1a1a" stroke-width="1.7" />
<text x="320.2" y="370.1" font-family='"Liberation Serif", serif' font-size="10.4" font-weight="bold" text-anchor="end" fill="#000" >2</text>
<line x1="321.7" y1="339.7" x2="327" y2="339.7" stroke="#1a1a1a" stroke-width="1.7" />
<text x="320.2" y="343.2" font-family='"Liberation Serif", serif' font-size="10.4" font-weight="bold" text-anchor="end" fill="#000" >3</text>
<line x1="321.7" y1="312.8" x2="327" y2="312.8" stroke="#1a1a1a" stroke-width="1.7" />
<text x="320.2" y="316.3" font-family='"Liberation Serif", serif' font-size="10.4" font-weight="bold" text-anchor="end" fill="#000" >4</text>
<line x1="321.7" y1="285.9" x2="327" y2="285.9" stroke="#1a1a1a" stroke-width="1.7" />
<text x="320.2" y="289.4" font-family='"Liberation Serif", serif' font-size="10.4" font-weight="bold" text-anchor="end" fill="#000" >5</text>
<line x1="326.2" y1="420.4" x2="462.6" y2="420.4" stroke="#1a1a1a" stroke-width="1.7" />
<text x="301" y="350" font-family='"Liberation Serif", serif' font-size="11.4" font-weight="bold" text-anchor="middle" fill="#000" transform="rotate(-90 301 350)">Cell proportion (%)</text>
<line x1="347.4" y1="420.4" x2="347.4" y2="425.8" stroke="#1a1a1a" stroke-width="1.7" />
<text x="347.4" y="437.3" font-family='"Liberation Serif", serif' font-size="11.3" font-weight="bold" text-anchor="middle" fill="#000" >Naive</text>
<text x="347.4" y="449.8" font-family='"Liberation Serif", serif' font-size="11.3" font-weight="bold" text-anchor="middle" fill="#000" >B</text>
<line x1="338.6" y1="295.58" x2="338.6" y2="312.53" stroke="#7a7aff" stroke-width="1.8" />
<line x1="335.8" y1="295.58" x2="341.4" y2="295.58" stroke="#7a7aff" stroke-width="2" />
<line x1="338.6" y1="375.48" x2="338.6" y2="387.58" stroke="#7a7aff" stroke-width="1.8" />
<line x1="335.8" y1="387.58" x2="341.4" y2="387.58" stroke="#7a7aff" stroke-width="2" />
<rect x="333.95" y="312.53" width="9.3" height="62.95" fill="#8080ff" stroke="#3d3dff" stroke-width="1.7"/>
<line x1="333.95" y1="338.09" x2="343.25" y2="338.09" stroke="#3d3dff" stroke-width="1.7" />
<line x1="356.4" y1="315.76" x2="356.4" y2="336.2" stroke="#ff7a7a" stroke-width="1.8" />
<line x1="353.6" y1="315.76" x2="359.2" y2="315.76" stroke="#ff7a7a" stroke-width="2" />
<line x1="356.4" y1="406.14" x2="356.4" y2="420.4" stroke="#ff7a7a" stroke-width="1.8" />
<rect x="351.75" y="336.2" width="9.3" height="69.94" fill="#ff8080" stroke="#ff3d3d" stroke-width="1.7"/>
<line x1="351.75" y1="375.48" x2="361.05" y2="375.48" stroke="#ff3d3d" stroke-width="1.7" />
<line x1="394.4" y1="420.4" x2="394.4" y2="425.8" stroke="#1a1a1a" stroke-width="1.7" />
<text x="394.4" y="437.3" font-family='"Liberation Serif", serif' font-size="11.3" font-weight="bold" text-anchor="middle" fill="#000" >Memory</text>
<text x="394.4" y="449.8" font-family='"Liberation Serif", serif' font-size="11.3" font-weight="bold" text-anchor="middle" fill="#000" >B</text>
<line x1="385.6" y1="293.97" x2="385.6" y2="303.38" stroke="#7a7aff" stroke-width="1.8" />
<line x1="382.8" y1="293.97" x2="388.4" y2="293.97" stroke="#7a7aff" stroke-width="2" />
<rect x="380.95" y="303.38" width="9.3" height="117.01" fill="#8080ff" stroke="#3d3dff" stroke-width="1.7"/>
<line x1="380.95" y1="381.13" x2="390.25" y2="381.13" stroke="#3d3dff" stroke-width="1.7" />
<line x1="403.4" y1="409.91" x2="403.4" y2="418.79" stroke="#ff7a7a" stroke-width="1.8" />
<line x1="400.6" y1="409.91" x2="406.2" y2="409.91" stroke="#ff7a7a" stroke-width="2" />
<rect x="397.9" y="418.6" width="11" height="2.2" fill="#ff3d3d" stroke="#ff3d3d" stroke-width="0"/>
<line x1="441.5" y1="420.4" x2="441.5" y2="425.8" stroke="#1a1a1a" stroke-width="1.7" />
<text x="441.5" y="437.3" font-family='"Liberation Serif", serif' font-size="11.3" font-weight="bold" text-anchor="middle" fill="#000" >Plasma</text>
<line x1="432.7" y1="297.47" x2="432.7" y2="321.68" stroke="#7a7aff" stroke-width="1.8" />
<line x1="429.9" y1="297.47" x2="435.5" y2="297.47" stroke="#7a7aff" stroke-width="2" />
<line x1="432.7" y1="390.27" x2="432.7" y2="412.06" stroke="#7a7aff" stroke-width="1.8" />
<line x1="429.9" y1="412.06" x2="435.5" y2="412.06" stroke="#7a7aff" stroke-width="2" />
<rect x="428.05" y="321.68" width="9.3" height="68.6" fill="#8080ff" stroke="#3d3dff" stroke-width="1.7"/>
<line x1="428.05" y1="336.74" x2="437.35" y2="336.74" stroke="#3d3dff" stroke-width="1.7" />
<line x1="450.5" y1="344.81" x2="450.5" y2="363.1" stroke="#ff7a7a" stroke-width="1.8" />
<line x1="447.7" y1="344.81" x2="453.3" y2="344.81" stroke="#ff7a7a" stroke-width="2" />
<line x1="450.5" y1="394.84" x2="450.5" y2="398.07" stroke="#ff7a7a" stroke-width="1.8" />
<line x1="447.7" y1="398.07" x2="453.3" y2="398.07" stroke="#ff7a7a" stroke-width="2" />
<rect x="445.85" y="363.1" width="9.3" height="31.74" fill="#ff8080" stroke="#ff3d3d" stroke-width="1.7"/>
<line x1="445.85" y1="386.51" x2="455.15" y2="386.51" stroke="#ff3d3d" stroke-width="1.7" />
<line x1="338.6" y1="277.9" x2="356.4" y2="277.9" stroke="#222" stroke-width="1.7" />
<text x="347.4" y="271.3" font-family='"Liberation Serif", serif' font-size="11.5" font-weight="normal" text-anchor="middle" fill="#222" >ns</text>
<line x1="385.6" y1="277.9" x2="403.4" y2="277.9" stroke="#222" stroke-width="1.7" />
<path d="M394.4 264.4L394.4 270.6M391.72 265.95L397.08 269.05M391.72 269.05L397.08 265.95" stroke="#111" stroke-width="1.5" stroke-linecap="butt"/>
<line x1="432.7" y1="277.9" x2="450.5" y2="277.9" stroke="#222" stroke-width="1.7" />
<text x="441.5" y="271.3" font-family='"Liberation Serif", serif' font-size="11.5" font-weight="normal" text-anchor="middle" fill="#222" >ns</text>
<text x="507.2" y="258.6" font-family='"Liberation Serif", serif' font-size="15" font-weight="normal" text-anchor="start" fill="#000" >(d)</text>
<line x1="546.6" y1="286.95" x2="546.6" y2="424.2" stroke="#1a1a1a" stroke-width="1.7" />
<line x1="541.3" y1="423.3" x2="546.6" y2="423.3" stroke="#1a1a1a" stroke-width="1.7" />
<text x="539.8" y="426.8" font-family='"Liberation Serif", serif' font-size="10.4" font-weight="bold" text-anchor="end" fill="#000" >0</text>
<line x1="541.3" y1="378.15" x2="546.6" y2="378.15" stroke="#1a1a1a" stroke-width="1.7" />
<text x="539.8" y="381.65" font-family='"Liberation Serif", serif' font-size="10.4" font-weight="bold" text-anchor="end" fill="#000" >1</text>
<line x1="541.3" y1="333" x2="546.6" y2="333" stroke="#1a1a1a" stroke-width="1.7" />
<text x="539.8" y="336.5" font-family='"Liberation Serif", serif' font-size="10.4" font-weight="bold" text-anchor="end" fill="#000" >2</text>
<line x1="541.3" y1="287.85" x2="546.6" y2="287.85" stroke="#1a1a1a" stroke-width="1.7" />
<text x="539.8" y="291.35" font-family='"Liberation Serif", serif' font-size="10.4" font-weight="bold" text-anchor="end" fill="#000" >3</text>
<line x1="545.8" y1="423.3" x2="681.9" y2="423.3" stroke="#1a1a1a" stroke-width="1.7" />
<text x="526.7" y="355.6" font-family='"Liberation Serif", serif' font-size="11.4" font-weight="bold" text-anchor="middle" fill="#000" transform="rotate(-90 526.7 355.6)">Cell proportion (%)</text>
<line x1="577.6" y1="423.3" x2="577.6" y2="428.7" stroke="#1a1a1a" stroke-width="1.7" />
<text x="577.6" y="441.2" font-family='"Liberation Serif", serif' font-size="11.3" font-weight="bold" text-anchor="middle" fill="#000" >pDCs</text>
<line x1="564.1" y1="336.16" x2="564.1" y2="365.51" stroke="#7a7aff" stroke-width="1.8" />
<line x1="560" y1="336.16" x2="568.2" y2="336.16" stroke="#7a7aff" stroke-width="2" />
<line x1="564.1" y1="398.47" x2="564.1" y2="412.92" stroke="#7a7aff" stroke-width="1.8" />
<line x1="560" y1="412.92" x2="568.2" y2="412.92" stroke="#7a7aff" stroke-width="2" />
<rect x="556.05" y="365.51" width="16.1" height="32.96" fill="#8080ff" stroke="#3d3dff" stroke-width="1.7"/>
<line x1="556.05" y1="384.02" x2="572.15" y2="384.02" stroke="#3d3dff" stroke-width="1.7" />
<line x1="591.5" y1="371.38" x2="591.5" y2="380.41" stroke="#ff7a7a" stroke-width="1.8" />
<line x1="587.4" y1="371.38" x2="595.6" y2="371.38" stroke="#ff7a7a" stroke-width="2" />
<line x1="591.5" y1="416.98" x2="591.5" y2="423.3" stroke="#ff7a7a" stroke-width="1.8" />
<rect x="583.45" y="380.41" width="16.1" height="36.57" fill="#ff8080" stroke="#ff3d3d" stroke-width="1.7"/>
<line x1="583.45" y1="390.79" x2="599.55" y2="390.79" stroke="#ff3d3d" stroke-width="1.7" />
<line x1="650" y1="423.3" x2="650" y2="428.7" stroke="#1a1a1a" stroke-width="1.7" />
<text x="650" y="441.2" font-family='"Liberation Serif", serif' font-size="11.3" font-weight="bold" text-anchor="middle" fill="#000" >mDCs</text>
<line x1="636.5" y1="378.15" x2="636.5" y2="386.73" stroke="#7a7aff" stroke-width="1.8" />
<line x1="632.4" y1="378.15" x2="640.6" y2="378.15" stroke="#7a7aff" stroke-width="2" />
<line x1="636.5" y1="421.49" x2="636.5" y2="423.3" stroke="#7a7aff" stroke-width="1.8" />
<rect x="628.45" y="386.73" width="16.1" height="34.77" fill="#8080ff" stroke="#3d3dff" stroke-width="1.7"/>
<line x1="628.45" y1="411.11" x2="644.55" y2="411.11" stroke="#3d3dff" stroke-width="1.7" />
<line x1="663.9" y1="383.57" x2="663.9" y2="403.89" stroke="#ff7a7a" stroke-width="1.8" />
<line x1="659.8" y1="383.57" x2="668" y2="383.57" stroke="#ff7a7a" stroke-width="2" />
<rect x="655.85" y="403.89" width="16.1" height="19.41" fill="#ff8080" stroke="#ff3d3d" stroke-width="1.7"/>
<line x1="655.85" y1="417.88" x2="671.95" y2="417.88" stroke="#ff3d3d" stroke-width="1.7" />
<line x1="564.1" y1="320.2" x2="591.5" y2="320.2" stroke="#222" stroke-width="1.7" />
<text x="577.6" y="313.6" font-family='"Liberation Serif", serif' font-size="11.5" font-weight="normal" text-anchor="middle" fill="#222" >ns</text>
<line x1="636.5" y1="320.2" x2="663.9" y2="320.2" stroke="#222" stroke-width="1.7" />
<text x="650" y="313.6" font-family='"Liberation Serif", serif' font-size="11.5" font-weight="normal" text-anchor="middle" fill="#222" >ns</text>
<text x="7" y="487.8" font-family='"Liberation Serif", serif' font-size="15" font-weight="normal" text-anchor="start" fill="#000" >(e)</text>
<line x1="51.6" y1="505.9" x2="51.6" y2="642.9" stroke="#1a1a1a" stroke-width="1.7" />
<line x1="46.3" y1="642" x2="51.6" y2="642" stroke="#1a1a1a" stroke-width="1.7" />
<text x="44.8" y="645.5" font-family='"Liberation Serif", serif' font-size="10.4" font-weight="bold" text-anchor="end" fill="#000" >0</text>
<line x1="46.3" y1="608.2" x2="51.6" y2="608.2" stroke="#1a1a1a" stroke-width="1.7" />
<text x="44.8" y="611.7" font-family='"Liberation Serif", serif' font-size="10.4" font-weight="bold" text-anchor="end" fill="#000" >5</text>
<line x1="46.3" y1="574.4" x2="51.6" y2="574.4" stroke="#1a1a1a" stroke-width="1.7" />
<text x="44.8" y="577.9" font-family='"Liberation Serif", serif' font-size="10.4" font-weight="bold" text-anchor="end" fill="#000" >10</text>
<line x1="46.3" y1="540.6" x2="51.6" y2="540.6" stroke="#1a1a1a" stroke-width="1.7" />
<text x="44.8" y="544.1" font-family='"Liberation Serif", serif' font-size="10.4" font-weight="bold" text-anchor="end" fill="#000" >15</text>
<line x1="46.3" y1="506.8" x2="51.6" y2="506.8" stroke="#1a1a1a" stroke-width="1.7" />
<text x="44.8" y="510.3" font-family='"Liberation Serif", serif' font-size="10.4" font-weight="bold" text-anchor="end" fill="#000" >20</text>
<line x1="50.8" y1="642" x2="238.5" y2="642" stroke="#1a1a1a" stroke-width="1.7" />
<text x="27.2" y="574.7" font-family='"Liberation Serif", serif' font-size="11.4" font-weight="bold" text-anchor="middle" fill="#000" transform="rotate(-90 27.2 574.7)">Cell proportion (%)</text>
<line x1="79.9" y1="642" x2="79.9" y2="647.4" stroke="#1a1a1a" stroke-width="1.7" />
<text x="79.9" y="659.3" font-family='"Liberation Serif", serif' font-size="11.3" font-weight="bold" text-anchor="middle" fill="#000" >Classical</text>
<text x="79.9" y="671.8" font-family='"Liberation Serif", serif' font-size="11.3" font-weight="bold" text-anchor="middle" fill="#000" >Monocytes</text>
<line x1="67.9" y1="638.62" x2="67.9" y2="640.31" stroke="#7a7aff" stroke-width="1.8" />
<line x1="64.15" y1="638.62" x2="71.65" y2="638.62" stroke="#7a7aff" stroke-width="2" />
<rect x="60" y="640.2" width="15.8" height="2.2" fill="#3d3dff" stroke="#3d3dff" stroke-width="0"/>
<line x1="92.1" y1="629.16" x2="92.1" y2="638.96" stroke="#ff7a7a" stroke-width="1.8" />
<line x1="88.35" y1="629.16" x2="95.85" y2="629.16" stroke="#ff7a7a" stroke-width="2" />
<rect x="84.2" y="639.36" width="15.8" height="3.04" fill="#ff3d3d" stroke="#ff3d3d" stroke-width="0"/>
<line x1="144.4" y1="642" x2="144.4" y2="647.4" stroke="#1a1a1a" stroke-width="1.7" />
<text x="144.4" y="659.3" font-family='"Liberation Serif", serif' font-size="11.3" font-weight="bold" text-anchor="middle" fill="#000" >Non-classical</text>
<text x="144.4" y="671.8" font-family='"Liberation Serif", serif' font-size="11.3" font-weight="bold" text-anchor="middle" fill="#000" >Monocytes</text>
<line x1="132.4" y1="612.26" x2="132.4" y2="619.69" stroke="#7a7aff" stroke-width="1.8" />
<line x1="128.65" y1="612.26" x2="136.15" y2="612.26" stroke="#7a7aff" stroke-width="2" />
<line x1="132.4" y1="624.42" x2="132.4" y2="629.49" stroke="#7a7aff" stroke-width="1.8" />
<line x1="128.65" y1="629.49" x2="136.15" y2="629.49" stroke="#7a7aff" stroke-width="2" />
<rect x="125.35" y="619.69" width="14.1" height="4.73" fill="#8080ff" stroke="#3d3dff" stroke-width="1.7"/>
<line x1="125.35" y1="622.06" x2="139.45" y2="622.06" stroke="#3d3dff" stroke-width="1.7" />
<line x1="156.6" y1="614.28" x2="156.6" y2="615.97" stroke="#ff7a7a" stroke-width="1.8" />
<line x1="152.85" y1="614.28" x2="160.35" y2="614.28" stroke="#ff7a7a" stroke-width="2" />
<line x1="156.6" y1="633.21" x2="156.6" y2="642" stroke="#ff7a7a" stroke-width="1.8" />
<rect x="149.55" y="615.97" width="14.1" height="17.24" fill="#ff8080" stroke="#ff3d3d" stroke-width="1.7"/>
<line x1="149.55" y1="629.83" x2="163.65" y2="629.83" stroke="#ff3d3d" stroke-width="1.7" />
<line x1="209.9" y1="642" x2="209.9" y2="647.4" stroke="#1a1a1a" stroke-width="1.7" />
<text x="209.9" y="659.3" font-family='"Liberation Serif", serif' font-size="11.3" font-weight="bold" text-anchor="middle" fill="#000" >M&#934;</text>
<line x1="197.9" y1="550.06" x2="197.9" y2="568.99" stroke="#7a7aff" stroke-width="1.8" />
<line x1="194.15" y1="550.06" x2="201.65" y2="550.06" stroke="#7a7aff" stroke-width="2" />
<line x1="197.9" y1="584.54" x2="197.9" y2="598.06" stroke="#7a7aff" stroke-width="1.8" />
<line x1="194.15" y1="598.06" x2="201.65" y2="598.06" stroke="#7a7aff" stroke-width="2" />
<rect x="190.85" y="568.99" width="14.1" height="15.55" fill="#8080ff" stroke="#3d3dff" stroke-width="1.7"/>
<line x1="190.85" y1="581.5" x2="204.95" y2="581.5" stroke="#3d3dff" stroke-width="1.7" />
<line x1="222.1" y1="515.59" x2="222.1" y2="550.06" stroke="#ff7a7a" stroke-width="1.8" />
<line x1="218.35" y1="515.59" x2="225.85" y2="515.59" stroke="#ff7a7a" stroke-width="2" />
<line x1="222.1" y1="597.38" x2="222.1" y2="634.9" stroke="#ff7a7a" stroke-width="1.8" />
<line x1="218.35" y1="634.9" x2="225.85" y2="634.9" stroke="#ff7a7a" stroke-width="2" />
<rect x="215.05" y="550.06" width="14.1" height="47.32" fill="#ff8080" stroke="#ff3d3d" stroke-width="1.7"/>
<line x1="215.05" y1="562.91" x2="229.15" y2="562.91" stroke="#ff3d3d" stroke-width="1.7" />
<line x1="67.9" y1="499.2" x2="92.1" y2="499.2" stroke="#222" stroke-width="1.7" />
<text x="79.9" y="492.6" font-family='"Liberation Serif", serif' font-size="11.5" font-weight="normal" text-anchor="middle" fill="#222" >ns</text>
<line x1="132.4" y1="499.2" x2="156.6" y2="499.2" stroke="#222" stroke-width="1.7" />
<text x="144.4" y="492.6" font-family='"Liberation Serif", serif' font-size="11.5" font-weight="normal" text-anchor="middle" fill="#222" >ns</text>
<line x1="197.9" y1="499.2" x2="222.1" y2="499.2" stroke="#222" stroke-width="1.7" />
<text x="209.9" y="492.6" font-family='"Liberation Serif", serif' font-size="11.5" font-weight="normal" text-anchor="middle" fill="#222" >ns</text>
<text x="289.8" y="484.2" font-family='"Liberation Serif", serif' font-size="15" font-weight="normal" text-anchor="start" fill="#000" >(f)</text>
<line x1="329.2" y1="505.16" x2="329.2" y2="642.4" stroke="#1a1a1a" stroke-width="1.7" />
<line x1="323.9" y1="641.5" x2="329.2" y2="641.5" stroke="#1a1a1a" stroke-width="1.7" />
<text x="322.4" y="645" font-family='"Liberation Serif", serif' font-size="10.4" font-weight="bold" text-anchor="end" fill="#000" >0</text>
<line x1="323.9" y1="607.64" x2="329.2" y2="607.64" stroke="#1a1a1a" stroke-width="1.7" />
<text x="322.4" y="611.14" font-family='"Liberation Serif", serif' font-size="10.4" font-weight="bold" text-anchor="end" fill="#000" >2</text>
<line x1="323.9" y1="573.78" x2="329.2" y2="573.78" stroke="#1a1a1a" stroke-width="1.7" />
<text x="322.4" y="577.28" font-family='"Liberation Serif", serif' font-size="10.4" font-weight="bold" text-anchor="end" fill="#000" >4</text>
<line x1="323.9" y1="539.92" x2="329.2" y2="539.92" stroke="#1a1a1a" stroke-width="1.7" />
<text x="322.4" y="543.42" font-family='"Liberation Serif", serif' font-size="10.4" font-weight="bold" text-anchor="end" fill="#000" >6</text>
<line x1="323.9" y1="506.06" x2="329.2" y2="506.06" stroke="#1a1a1a" stroke-width="1.7" />
<text x="322.4" y="509.56" font-family='"Liberation Serif", serif' font-size="10.4" font-weight="bold" text-anchor="end" fill="#000" >8</text>
<line x1="328.4" y1="641.5" x2="465.6" y2="641.5" stroke="#1a1a1a" stroke-width="1.7" />
<text x="308" y="574" font-family='"Liberation Serif", serif' font-size="11.4" font-weight="bold" text-anchor="middle" fill="#000" transform="rotate(-90 308 574)">Cell proportion (%)</text>
<line x1="361.5" y1="641.5" x2="361.5" y2="646.9" stroke="#1a1a1a" stroke-width="1.7" />
<text x="361.5" y="658.6" font-family='"Liberation Serif", serif' font-size="11.3" font-weight="bold" text-anchor="middle" fill="#000" >Neutrophils</text>
<line x1="348" y1="527.39" x2="348" y2="583.94" stroke="#7a7aff" stroke-width="1.8" />
<line x1="344" y1="527.39" x2="352" y2="527.39" stroke="#7a7aff" stroke-width="2" />
<line x1="348" y1="616.95" x2="348" y2="635.24" stroke="#7a7aff" stroke-width="1.8" />
<line x1="344" y1="635.24" x2="352" y2="635.24" stroke="#7a7aff" stroke-width="2" />
<rect x="340.05" y="583.94" width="15.9" height="33.01" fill="#8080ff" stroke="#3d3dff" stroke-width="1.7"/>
<line x1="340.05" y1="611.03" x2="355.95" y2="611.03" stroke="#3d3dff" stroke-width="1.7" />
<line x1="374.9" y1="563.96" x2="374.9" y2="593.76" stroke="#ff7a7a" stroke-width="1.8" />
<line x1="370.9" y1="563.96" x2="378.9" y2="563.96" stroke="#ff7a7a" stroke-width="2" />
<line x1="374.9" y1="627.11" x2="374.9" y2="641.5" stroke="#ff7a7a" stroke-width="1.8" />
<rect x="366.95" y="593.76" width="15.9" height="33.35" fill="#ff8080" stroke="#ff3d3d" stroke-width="1.7"/>
<line x1="366.95" y1="597.48" x2="382.85" y2="597.48" stroke="#ff3d3d" stroke-width="1.7" />
<line x1="433.6" y1="641.5" x2="433.6" y2="646.9" stroke="#1a1a1a" stroke-width="1.7" />
<text x="433.6" y="658.6" font-family='"Liberation Serif", serif' font-size="11.3" font-weight="bold" text-anchor="middle" fill="#000" >Mast cells</text>
<line x1="420.1" y1="635.91" x2="420.1" y2="637.78" stroke="#7a7aff" stroke-width="1.8" />
<line x1="416.1" y1="635.91" x2="424.1" y2="635.91" stroke="#7a7aff" stroke-width="2" />
<line x1="420.1" y1="639.47" x2="420.1" y2="640.65" stroke="#7a7aff" stroke-width="1.8" />
<line x1="416.1" y1="640.65" x2="424.1" y2="640.65" stroke="#7a7aff" stroke-width="2" />
<rect x="411.3" y="637.67" width="17.6" height="2.2" fill="#3d3dff" stroke="#3d3dff" stroke-width="0"/>
<line x1="447" y1="631.34" x2="447" y2="638.11" stroke="#ff7a7a" stroke-width="1.8" />
<line x1="443" y1="631.34" x2="451" y2="631.34" stroke="#ff7a7a" stroke-width="2" />
<rect x="438.2" y="638.51" width="17.6" height="3.39" fill="#ff3d3d" stroke="#ff3d3d" stroke-width="0"/>
<line x1="348" y1="511.5" x2="374.9" y2="511.5" stroke="#222" stroke-width="1.7" />
<text x="361.5" y="504.9" font-family='"Liberation Serif", serif' font-size="11.5" font-weight="normal" text-anchor="middle" fill="#222" >ns</text>
<line x1="420.1" y1="511.5" x2="447" y2="511.5" stroke="#222" stroke-width="1.7" />
<text x="433.6" y="504.9" font-family='"Liberation Serif", serif' font-size="11.5" font-weight="normal" text-anchor="middle" fill="#222" >ns</text>
<text x="513.8" y="481.6" font-family='"Liberation Serif", serif' font-size="15" font-weight="normal" text-anchor="start" fill="#000" >(g)</text>
<line x1="548" y1="503.5" x2="548" y2="640.3" stroke="#1a1a1a" stroke-width="1.7" />
<line x1="542.7" y1="639.4" x2="548" y2="639.4" stroke="#1a1a1a" stroke-width="1.7" />
<text x="541.2" y="642.9" font-family='"Liberation Serif", serif' font-size="10.4" font-weight="bold" text-anchor="end" fill="#000" >0</text>
<line x1="542.7" y1="594.4" x2="548" y2="594.4" stroke="#1a1a1a" stroke-width="1.7" />
<text x="541.2" y="597.9" font-family='"Liberation Serif", serif' font-size="10.4" font-weight="bold" text-anchor="end" fill="#000" >5</text>
<line x1="542.7" y1="549.4" x2="548" y2="549.4" stroke="#1a1a1a" stroke-width="1.7" />
<text x="541.2" y="552.9" font-family='"Liberation Serif", serif' font-size="10.4" font-weight="bold" text-anchor="end" fill="#000" >10</text>
<line x1="542.7" y1="504.4" x2="548" y2="504.4" stroke="#1a1a1a" stroke-width="1.7" />
<text x="541.2" y="507.9" font-family='"Liberation Serif", serif' font-size="10.4" font-weight="bold" text-anchor="end" fill="#000" >15</text>
<line x1="547.2" y1="639.4" x2="685" y2="639.4" stroke="#1a1a1a" stroke-width="1.7" />
<text x="525" y="571.2" font-family='"Liberation Serif", serif' font-size="11.4" font-weight="bold" text-anchor="middle" fill="#000" transform="rotate(-90 525 571.2)">Cell proportion (%)</text>
<line x1="580.2" y1="639.4" x2="580.2" y2="644.8" stroke="#1a1a1a" stroke-width="1.7" />
<text x="580.2" y="656.6" font-family='"Liberation Serif", serif' font-size="11.3" font-weight="bold" text-anchor="middle" fill="#000" >Endothelial cells</text>
<line x1="566.7" y1="555.97" x2="566.7" y2="566.5" stroke="#7a7aff" stroke-width="1.8" />
<line x1="562.7" y1="555.97" x2="570.7" y2="555.97" stroke="#7a7aff" stroke-width="2" />
<line x1="566.7" y1="579.1" x2="566.7" y2="582.07" stroke="#7a7aff" stroke-width="1.8" />
<line x1="562.7" y1="582.07" x2="570.7" y2="582.07" stroke="#7a7aff" stroke-width="2" />
<rect x="558.75" y="566.5" width="15.9" height="12.6" fill="#8080ff" stroke="#3d3dff" stroke-width="1.7"/>
<line x1="558.75" y1="571.9" x2="574.65" y2="571.9" stroke="#3d3dff" stroke-width="1.7" />
<line x1="593.7" y1="565.6" x2="593.7" y2="582.7" stroke="#ff7a7a" stroke-width="1.8" />
<line x1="589.7" y1="565.6" x2="597.7" y2="565.6" stroke="#ff7a7a" stroke-width="2" />
<line x1="593.7" y1="603.85" x2="593.7" y2="610.33" stroke="#ff7a7a" stroke-width="1.8" />
<line x1="589.7" y1="610.33" x2="597.7" y2="610.33" stroke="#ff7a7a" stroke-width="2" />
<rect x="585.75" y="582.7" width="15.9" height="21.15" fill="#ff8080" stroke="#ff3d3d" stroke-width="1.7"/>
<line x1="585.75" y1="588.73" x2="601.65" y2="588.73" stroke="#ff3d3d" stroke-width="1.7" />
<line x1="652.6" y1="639.4" x2="652.6" y2="644.8" stroke="#1a1a1a" stroke-width="1.7" />
<text x="652.6" y="656.6" font-family='"Liberation Serif", serif' font-size="11.3" font-weight="bold" text-anchor="middle" fill="#000" >Fibroblasts</text>
<line x1="639.1" y1="524.2" x2="639.1" y2="538.6" stroke="#7a7aff" stroke-width="1.8" />
<line x1="635.1" y1="524.2" x2="643.1" y2="524.2" stroke="#7a7aff" stroke-width="2" />
<line x1="639.1" y1="587.2" x2="639.1" y2="599.53" stroke="#7a7aff" stroke-width="1.8" />
<line x1="635.1" y1="599.53" x2="643.1" y2="599.53" stroke="#7a7aff" stroke-width="2" />
<rect x="631.15" y="538.6" width="15.9" height="48.6" fill="#8080ff" stroke="#3d3dff" stroke-width="1.7"/>
<line x1="631.15" y1="582.7" x2="647.05" y2="582.7" stroke="#3d3dff" stroke-width="1.7" />
<line x1="666.1" y1="518.8" x2="666.1" y2="557.5" stroke="#ff7a7a" stroke-width="1.8" />
<line x1="662.1" y1="518.8" x2="670.1" y2="518.8" stroke="#ff7a7a" stroke-width="2" />
<line x1="666.1" y1="577.75" x2="666.1" y2="586.3" stroke="#ff7a7a" stroke-width="1.8" />
<line x1="662.1" y1="586.3" x2="670.1" y2="586.3" stroke="#ff7a7a" stroke-width="2" />
<rect x="658.15" y="557.5" width="15.9" height="20.25" fill="#ff8080" stroke="#ff3d3d" stroke-width="1.7"/>
<line x1="658.15" y1="568.3" x2="674.05" y2="568.3" stroke="#ff3d3d" stroke-width="1.7" />
<line x1="566.7" y1="502.8" x2="593.7" y2="502.8" stroke="#222" stroke-width="1.7" />
<text x="580.2" y="496.2" font-family='"Liberation Serif", serif' font-size="11.5" font-weight="normal" text-anchor="middle" fill="#222" >ns</text>
<line x1="639.1" y1="502.8" x2="666.1" y2="502.8" stroke="#222" stroke-width="1.7" />
<text x="652.6" y="496.2" font-family='"Liberation Serif", serif' font-size="11.5" font-weight="normal" text-anchor="middle" fill="#222" >ns</text>
</svg>
</body></html>
